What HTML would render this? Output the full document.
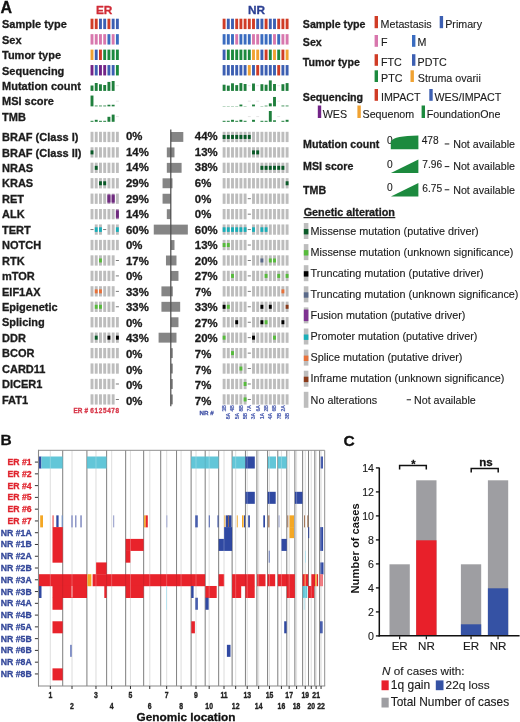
<!DOCTYPE html>
<html><head><meta charset="utf-8"><title>Figure</title>
<style>
html,body{margin:0;padding:0;background:#fff;}
body{width:520px;height:722px;overflow:hidden;}
svg{display:block;font-family:"Liberation Sans",Arial,Helvetica,sans-serif;}
</style></head><body>
<svg width="520" height="722" viewBox="0 0 520 722">
<rect x="0" y="0" width="520" height="722" fill="#fff"/>
<text x="0.60" y="13.10" font-size="16" font-weight="bold" stroke="#111" stroke-width="0.3" fill="#111">A</text>
<text x="104.10" y="14.20" font-size="11.8" font-weight="bold" stroke="#d02a36" stroke-width="0.3" text-anchor="middle" fill="#d02a36">ER</text>
<text x="256.60" y="14.20" font-size="11.8" font-weight="bold" stroke="#2b3f93" stroke-width="0.3" text-anchor="middle" fill="#2b3f93">NR</text>
<text x="2.00" y="28.20" font-size="11" font-weight="bold" stroke="#1c1c1c" stroke-width="0.3" fill="#1c1c1c">Sample type</text>
<text x="2.00" y="43.65" font-size="11" font-weight="bold" stroke="#1c1c1c" stroke-width="0.3" fill="#1c1c1c">Sex</text>
<text x="2.00" y="59.10" font-size="11" font-weight="bold" stroke="#1c1c1c" stroke-width="0.3" fill="#1c1c1c">Tumor type</text>
<text x="2.00" y="74.55" font-size="11" font-weight="bold" stroke="#1c1c1c" stroke-width="0.3" fill="#1c1c1c">Sequencing</text>
<text x="2.00" y="90.00" font-size="11" font-weight="bold" stroke="#1c1c1c" stroke-width="0.3" fill="#1c1c1c">Mutation count</text>
<text x="2.00" y="105.45" font-size="11" font-weight="bold" stroke="#1c1c1c" stroke-width="0.3" fill="#1c1c1c">MSI score</text>
<text x="2.00" y="120.90" font-size="11" font-weight="bold" stroke="#1c1c1c" stroke-width="0.3" fill="#1c1c1c">TMB</text>
<rect x="90.55" y="18.70" width="2.90" height="10.40" fill="#d03c26"/>
<rect x="94.78" y="18.70" width="2.90" height="10.40" fill="#d03c26"/>
<rect x="99.01" y="18.70" width="2.90" height="10.40" fill="#3c5fb2"/>
<rect x="103.24" y="18.70" width="2.90" height="10.40" fill="#3c5fb2"/>
<rect x="107.47" y="18.70" width="2.90" height="10.40" fill="#d03c26"/>
<rect x="111.70" y="18.70" width="2.90" height="10.40" fill="#3c5fb2"/>
<rect x="115.93" y="18.70" width="2.90" height="10.40" fill="#3c5fb2"/>
<rect x="90.55" y="34.15" width="2.90" height="10.40" fill="#d877ad"/>
<rect x="94.78" y="34.15" width="2.90" height="10.40" fill="#d877ad"/>
<rect x="99.01" y="34.15" width="2.90" height="10.40" fill="#d877ad"/>
<rect x="103.24" y="34.15" width="2.90" height="10.40" fill="#d877ad"/>
<rect x="107.47" y="34.15" width="2.90" height="10.40" fill="#3a6cc0"/>
<rect x="111.70" y="34.15" width="2.90" height="10.40" fill="#d877ad"/>
<rect x="115.93" y="34.15" width="2.90" height="10.40" fill="#3a6cc0"/>
<rect x="90.55" y="49.60" width="2.90" height="10.40" fill="#f0a232"/>
<rect x="94.78" y="49.60" width="2.90" height="10.40" fill="#3c5fb2"/>
<rect x="99.01" y="49.60" width="2.90" height="10.40" fill="#d03c26"/>
<rect x="103.24" y="49.60" width="2.90" height="10.40" fill="#1c8a3e"/>
<rect x="107.47" y="49.60" width="2.90" height="10.40" fill="#1c8a3e"/>
<rect x="111.70" y="49.60" width="2.90" height="10.40" fill="#1c8a3e"/>
<rect x="115.93" y="49.60" width="2.90" height="10.40" fill="#1c8a3e"/>
<rect x="90.55" y="65.05" width="2.90" height="10.40" fill="#722487"/>
<rect x="94.78" y="65.05" width="2.90" height="10.40" fill="#3c5fb2"/>
<rect x="99.01" y="65.05" width="2.90" height="10.40" fill="#722487"/>
<rect x="103.24" y="65.05" width="2.90" height="10.40" fill="#722487"/>
<rect x="107.47" y="65.05" width="2.90" height="10.40" fill="#3c5fb2"/>
<rect x="111.70" y="65.05" width="2.90" height="10.40" fill="#3c5fb2"/>
<rect x="115.93" y="65.05" width="2.90" height="10.40" fill="#1c8a3e"/>
<rect x="90.55" y="85.50" width="2.90" height="5.40" fill="#1f7f3c"/>
<rect x="94.78" y="83.00" width="2.90" height="7.90" fill="#1f7f3c"/>
<rect x="99.01" y="84.30" width="2.90" height="6.60" fill="#1f7f3c"/>
<rect x="103.24" y="85.00" width="2.90" height="5.90" fill="#1f7f3c"/>
<rect x="107.47" y="81.90" width="2.90" height="9.00" fill="#1f7f3c"/>
<rect x="111.70" y="81.00" width="2.90" height="9.90" fill="#1f7f3c"/>
<rect x="115.93" y="85.20" width="2.90" height="1.00" fill="#e4e4e4"/>
<rect x="90.55" y="95.55" width="2.90" height="10.80" fill="#1f7f3c"/>
<rect x="94.78" y="105.55" width="2.90" height="0.80" fill="#1f7f3c"/>
<rect x="99.01" y="105.55" width="2.90" height="0.80" fill="#1f7f3c"/>
<rect x="103.24" y="105.55" width="2.90" height="0.80" fill="#1f7f3c"/>
<rect x="107.47" y="104.75" width="2.90" height="1.60" fill="#1f7f3c"/>
<rect x="111.70" y="104.75" width="2.90" height="1.60" fill="#1f7f3c"/>
<rect x="115.93" y="100.65" width="2.90" height="1.00" fill="#e4e4e4"/>
<rect x="90.55" y="120.80" width="2.90" height="1.00" fill="#1f7f3c"/>
<rect x="94.78" y="119.80" width="2.90" height="2.00" fill="#1f7f3c"/>
<rect x="99.01" y="120.80" width="2.90" height="1.00" fill="#1f7f3c"/>
<rect x="103.24" y="120.80" width="2.90" height="1.00" fill="#1f7f3c"/>
<rect x="107.47" y="116.80" width="2.90" height="5.00" fill="#1f7f3c"/>
<rect x="111.70" y="114.60" width="2.90" height="7.20" fill="#1f7f3c"/>
<rect x="115.93" y="116.10" width="2.90" height="1.00" fill="#e4e4e4"/>
<rect x="222.65" y="18.70" width="2.90" height="10.40" fill="#d03c26"/>
<rect x="226.85" y="18.70" width="2.90" height="10.40" fill="#3c5fb2"/>
<rect x="231.05" y="18.70" width="2.90" height="10.40" fill="#3c5fb2"/>
<rect x="235.25" y="18.70" width="2.90" height="10.40" fill="#d03c26"/>
<rect x="239.45" y="18.70" width="2.90" height="10.40" fill="#d03c26"/>
<rect x="243.65" y="18.70" width="2.90" height="10.40" fill="#d03c26"/>
<rect x="247.85" y="18.70" width="2.90" height="10.40" fill="#d03c26"/>
<rect x="252.05" y="18.70" width="2.90" height="10.40" fill="#d03c26"/>
<rect x="256.25" y="18.70" width="2.90" height="10.40" fill="#3c5fb2"/>
<rect x="260.45" y="18.70" width="2.90" height="10.40" fill="#3c5fb2"/>
<rect x="264.65" y="18.70" width="2.90" height="10.40" fill="#d03c26"/>
<rect x="268.85" y="18.70" width="2.90" height="10.40" fill="#3c5fb2"/>
<rect x="273.05" y="18.70" width="2.90" height="10.40" fill="#3c5fb2"/>
<rect x="277.25" y="18.70" width="2.90" height="10.40" fill="#d03c26"/>
<rect x="281.45" y="18.70" width="2.90" height="10.40" fill="#d03c26"/>
<rect x="285.65" y="18.70" width="2.90" height="10.40" fill="#d03c26"/>
<rect x="222.65" y="34.15" width="2.90" height="10.40" fill="#3a6cc0"/>
<rect x="226.85" y="34.15" width="2.90" height="10.40" fill="#3a6cc0"/>
<rect x="231.05" y="34.15" width="2.90" height="10.40" fill="#3a6cc0"/>
<rect x="235.25" y="34.15" width="2.90" height="10.40" fill="#d877ad"/>
<rect x="239.45" y="34.15" width="2.90" height="10.40" fill="#3a6cc0"/>
<rect x="243.65" y="34.15" width="2.90" height="10.40" fill="#3a6cc0"/>
<rect x="247.85" y="34.15" width="2.90" height="10.40" fill="#3a6cc0"/>
<rect x="252.05" y="34.15" width="2.90" height="10.40" fill="#d877ad"/>
<rect x="256.25" y="34.15" width="2.90" height="10.40" fill="#d877ad"/>
<rect x="260.45" y="34.15" width="2.90" height="10.40" fill="#3a6cc0"/>
<rect x="264.65" y="34.15" width="2.90" height="10.40" fill="#3a6cc0"/>
<rect x="268.85" y="34.15" width="2.90" height="10.40" fill="#3a6cc0"/>
<rect x="273.05" y="34.15" width="2.90" height="10.40" fill="#d877ad"/>
<rect x="277.25" y="34.15" width="2.90" height="10.40" fill="#3a6cc0"/>
<rect x="281.45" y="34.15" width="2.90" height="10.40" fill="#d877ad"/>
<rect x="285.65" y="34.15" width="2.90" height="10.40" fill="#d877ad"/>
<rect x="222.65" y="49.60" width="2.90" height="10.40" fill="#3c5fb2"/>
<rect x="226.85" y="49.60" width="2.90" height="10.40" fill="#1c8a3e"/>
<rect x="231.05" y="49.60" width="2.90" height="10.40" fill="#1c8a3e"/>
<rect x="235.25" y="49.60" width="2.90" height="10.40" fill="#1c8a3e"/>
<rect x="239.45" y="49.60" width="2.90" height="10.40" fill="#1c8a3e"/>
<rect x="243.65" y="49.60" width="2.90" height="10.40" fill="#1c8a3e"/>
<rect x="247.85" y="49.60" width="2.90" height="10.40" fill="#1c8a3e"/>
<rect x="252.05" y="49.60" width="2.90" height="10.40" fill="#f0a232"/>
<rect x="256.25" y="49.60" width="2.90" height="10.40" fill="#f0a232"/>
<rect x="260.45" y="49.60" width="2.90" height="10.40" fill="#3c5fb2"/>
<rect x="264.65" y="49.60" width="2.90" height="10.40" fill="#d03c26"/>
<rect x="268.85" y="49.60" width="2.90" height="10.40" fill="#1c8a3e"/>
<rect x="273.05" y="49.60" width="2.90" height="10.40" fill="#f0a232"/>
<rect x="277.25" y="49.60" width="2.90" height="10.40" fill="#1c8a3e"/>
<rect x="281.45" y="49.60" width="2.90" height="10.40" fill="#d03c26"/>
<rect x="285.65" y="49.60" width="2.90" height="10.40" fill="#f0a232"/>
<rect x="222.65" y="65.05" width="2.90" height="10.40" fill="#3c5fb2"/>
<rect x="226.85" y="65.05" width="2.90" height="10.40" fill="#3c5fb2"/>
<rect x="231.05" y="65.05" width="2.90" height="10.40" fill="#3c5fb2"/>
<rect x="235.25" y="65.05" width="2.90" height="10.40" fill="#3c5fb2"/>
<rect x="239.45" y="65.05" width="2.90" height="10.40" fill="#3c5fb2"/>
<rect x="243.65" y="65.05" width="2.90" height="10.40" fill="#3c5fb2"/>
<rect x="247.85" y="65.05" width="2.90" height="10.40" fill="#f0a232"/>
<rect x="252.05" y="65.05" width="2.90" height="10.40" fill="#3c5fb2"/>
<rect x="256.25" y="65.05" width="2.90" height="10.40" fill="#d03c26"/>
<rect x="260.45" y="65.05" width="2.90" height="10.40" fill="#3c5fb2"/>
<rect x="264.65" y="65.05" width="2.90" height="10.40" fill="#3c5fb2"/>
<rect x="268.85" y="65.05" width="2.90" height="10.40" fill="#3c5fb2"/>
<rect x="273.05" y="65.05" width="2.90" height="10.40" fill="#3c5fb2"/>
<rect x="277.25" y="65.05" width="2.90" height="10.40" fill="#d03c26"/>
<rect x="281.45" y="65.05" width="2.90" height="10.40" fill="#3c5fb2"/>
<rect x="285.65" y="65.05" width="2.90" height="10.40" fill="#3c5fb2"/>
<rect x="222.65" y="84.70" width="2.90" height="6.20" fill="#1f7f3c"/>
<rect x="226.85" y="85.60" width="2.90" height="5.30" fill="#1f7f3c"/>
<rect x="231.05" y="83.30" width="2.90" height="7.60" fill="#1f7f3c"/>
<rect x="235.25" y="85.10" width="2.90" height="5.80" fill="#1f7f3c"/>
<rect x="239.45" y="83.10" width="2.90" height="7.80" fill="#1f7f3c"/>
<rect x="243.65" y="84.00" width="2.90" height="6.90" fill="#1f7f3c"/>
<rect x="247.85" y="85.20" width="2.90" height="1.00" fill="#e4e4e4"/>
<rect x="252.05" y="83.50" width="2.90" height="7.40" fill="#1f7f3c"/>
<rect x="256.25" y="85.20" width="2.90" height="1.00" fill="#e4e4e4"/>
<rect x="260.45" y="84.20" width="2.90" height="6.70" fill="#1f7f3c"/>
<rect x="264.65" y="84.70" width="2.90" height="6.20" fill="#1f7f3c"/>
<rect x="268.85" y="80.40" width="2.90" height="10.50" fill="#1f7f3c"/>
<rect x="273.05" y="84.00" width="2.90" height="6.90" fill="#1f7f3c"/>
<rect x="277.25" y="85.20" width="2.90" height="1.00" fill="#e4e4e4"/>
<rect x="281.45" y="84.20" width="2.90" height="6.70" fill="#1f7f3c"/>
<rect x="285.65" y="83.10" width="2.90" height="7.80" fill="#1f7f3c"/>
<rect x="222.65" y="106.05" width="2.90" height="0.30" fill="#1f7f3c"/>
<rect x="226.85" y="106.05" width="2.90" height="0.30" fill="#1f7f3c"/>
<rect x="231.05" y="106.05" width="2.90" height="0.30" fill="#1f7f3c"/>
<rect x="235.25" y="106.05" width="2.90" height="0.30" fill="#1f7f3c"/>
<rect x="239.45" y="104.55" width="2.90" height="1.80" fill="#1f7f3c"/>
<rect x="243.65" y="106.05" width="2.90" height="0.30" fill="#1f7f3c"/>
<rect x="247.85" y="100.65" width="2.90" height="1.00" fill="#e4e4e4"/>
<rect x="252.05" y="104.55" width="2.90" height="1.80" fill="#1f7f3c"/>
<rect x="256.25" y="100.65" width="2.90" height="1.00" fill="#e4e4e4"/>
<rect x="260.45" y="106.05" width="2.90" height="0.30" fill="#1f7f3c"/>
<rect x="264.65" y="105.65" width="2.90" height="0.70" fill="#1f7f3c"/>
<rect x="268.85" y="103.35" width="2.90" height="3.00" fill="#1f7f3c"/>
<rect x="273.05" y="96.95" width="2.90" height="9.40" fill="#1f7f3c"/>
<rect x="277.25" y="100.65" width="2.90" height="1.00" fill="#e4e4e4"/>
<rect x="281.45" y="105.55" width="2.90" height="0.80" fill="#1f7f3c"/>
<rect x="285.65" y="105.55" width="2.90" height="0.80" fill="#1f7f3c"/>
<rect x="222.65" y="120.80" width="2.90" height="1.00" fill="#1f7f3c"/>
<rect x="226.85" y="120.80" width="2.90" height="1.00" fill="#1f7f3c"/>
<rect x="231.05" y="119.80" width="2.90" height="2.00" fill="#1f7f3c"/>
<rect x="235.25" y="120.80" width="2.90" height="1.00" fill="#1f7f3c"/>
<rect x="239.45" y="119.80" width="2.90" height="2.00" fill="#1f7f3c"/>
<rect x="243.65" y="120.80" width="2.90" height="1.00" fill="#1f7f3c"/>
<rect x="247.85" y="116.10" width="2.90" height="1.00" fill="#e4e4e4"/>
<rect x="252.05" y="119.80" width="2.90" height="2.00" fill="#1f7f3c"/>
<rect x="256.25" y="116.10" width="2.90" height="1.00" fill="#e4e4e4"/>
<rect x="260.45" y="120.80" width="2.90" height="1.00" fill="#1f7f3c"/>
<rect x="264.65" y="120.80" width="2.90" height="1.00" fill="#1f7f3c"/>
<rect x="268.85" y="111.00" width="2.90" height="10.80" fill="#1f7f3c"/>
<rect x="273.05" y="120.30" width="2.90" height="1.50" fill="#1f7f3c"/>
<rect x="277.25" y="116.10" width="2.90" height="1.00" fill="#e4e4e4"/>
<rect x="281.45" y="120.80" width="2.90" height="1.00" fill="#1f7f3c"/>
<rect x="285.65" y="119.80" width="2.90" height="2.00" fill="#1f7f3c"/>
<rect x="90.55" y="131.80" width="2.90" height="10.30" fill="#bdbdbd"/>
<rect x="94.78" y="131.80" width="2.90" height="10.30" fill="#bdbdbd"/>
<rect x="99.01" y="131.80" width="2.90" height="10.30" fill="#bdbdbd"/>
<rect x="103.24" y="131.80" width="2.90" height="10.30" fill="#bdbdbd"/>
<rect x="107.47" y="131.80" width="2.90" height="10.30" fill="#bdbdbd"/>
<rect x="111.70" y="131.80" width="2.90" height="10.30" fill="#bdbdbd"/>
<rect x="115.93" y="131.80" width="2.90" height="10.30" fill="#bdbdbd"/>
<rect x="90.55" y="147.24" width="2.90" height="10.30" fill="#bdbdbd"/>
<rect x="90.55" y="150.39" width="2.90" height="4.00" fill="#0a5a28"/>
<rect x="94.78" y="147.24" width="2.90" height="10.30" fill="#bdbdbd"/>
<rect x="99.01" y="147.24" width="2.90" height="10.30" fill="#bdbdbd"/>
<rect x="103.24" y="147.24" width="2.90" height="10.30" fill="#bdbdbd"/>
<rect x="107.47" y="147.24" width="2.90" height="10.30" fill="#bdbdbd"/>
<rect x="111.70" y="147.24" width="2.90" height="10.30" fill="#bdbdbd"/>
<rect x="115.93" y="147.24" width="2.90" height="10.30" fill="#bdbdbd"/>
<rect x="90.55" y="162.68" width="2.90" height="10.30" fill="#bdbdbd"/>
<rect x="94.78" y="162.68" width="2.90" height="10.30" fill="#bdbdbd"/>
<rect x="94.78" y="165.83" width="2.90" height="4.00" fill="#0a5a28"/>
<rect x="99.01" y="162.68" width="2.90" height="10.30" fill="#bdbdbd"/>
<rect x="103.24" y="162.68" width="2.90" height="10.30" fill="#bdbdbd"/>
<rect x="107.47" y="162.68" width="2.90" height="10.30" fill="#bdbdbd"/>
<rect x="111.70" y="162.68" width="2.90" height="10.30" fill="#bdbdbd"/>
<rect x="115.93" y="162.68" width="2.90" height="10.30" fill="#bdbdbd"/>
<rect x="90.55" y="178.12" width="2.90" height="10.30" fill="#bdbdbd"/>
<rect x="94.78" y="178.12" width="2.90" height="10.30" fill="#bdbdbd"/>
<rect x="99.01" y="178.12" width="2.90" height="10.30" fill="#bdbdbd"/>
<rect x="99.01" y="181.27" width="2.90" height="4.00" fill="#0a5a28"/>
<rect x="103.24" y="178.12" width="2.90" height="10.30" fill="#bdbdbd"/>
<rect x="103.24" y="181.27" width="2.90" height="4.00" fill="#0a5a28"/>
<rect x="107.47" y="178.12" width="2.90" height="10.30" fill="#bdbdbd"/>
<rect x="111.70" y="178.12" width="2.90" height="10.30" fill="#bdbdbd"/>
<rect x="115.93" y="178.12" width="2.90" height="10.30" fill="#bdbdbd"/>
<rect x="90.55" y="193.56" width="2.90" height="10.30" fill="#bdbdbd"/>
<rect x="94.78" y="193.56" width="2.90" height="10.30" fill="#bdbdbd"/>
<rect x="99.01" y="193.56" width="2.90" height="10.30" fill="#bdbdbd"/>
<rect x="103.24" y="193.56" width="2.90" height="10.30" fill="#bdbdbd"/>
<rect x="107.47" y="193.56" width="2.90" height="10.30" fill="#bdbdbd"/>
<rect x="107.47" y="194.16" width="2.90" height="9.10" fill="#9a62a6"/>
<rect x="107.47" y="195.16" width="2.90" height="7.10" fill="#6e2a7e"/>
<rect x="111.70" y="193.56" width="2.90" height="10.30" fill="#bdbdbd"/>
<rect x="111.70" y="194.16" width="2.90" height="9.10" fill="#9a62a6"/>
<rect x="111.70" y="195.16" width="2.90" height="7.10" fill="#6e2a7e"/>
<rect x="115.93" y="193.56" width="2.90" height="10.30" fill="#bdbdbd"/>
<rect x="90.55" y="209.00" width="2.90" height="10.30" fill="#bdbdbd"/>
<rect x="94.78" y="209.00" width="2.90" height="10.30" fill="#bdbdbd"/>
<rect x="99.01" y="209.00" width="2.90" height="10.30" fill="#bdbdbd"/>
<rect x="103.24" y="209.00" width="2.90" height="10.30" fill="#bdbdbd"/>
<rect x="107.47" y="209.00" width="2.90" height="10.30" fill="#bdbdbd"/>
<rect x="111.70" y="209.00" width="2.90" height="10.30" fill="#bdbdbd"/>
<rect x="115.93" y="209.00" width="2.90" height="10.30" fill="#bdbdbd"/>
<rect x="115.93" y="209.60" width="2.90" height="9.10" fill="#9a62a6"/>
<rect x="115.93" y="210.60" width="2.90" height="7.10" fill="#6e2a7e"/>
<rect x="90.45" y="229.14" width="3.10" height="0.90" fill="#6a6a6a"/>
<rect x="94.78" y="224.44" width="2.90" height="10.30" fill="#bdbdbd"/>
<rect x="94.78" y="227.29" width="2.90" height="4.60" fill="#1aaeb8"/>
<rect x="99.01" y="224.44" width="2.90" height="10.30" fill="#bdbdbd"/>
<rect x="99.01" y="227.29" width="2.90" height="4.60" fill="#1aaeb8"/>
<rect x="103.14" y="229.14" width="3.10" height="0.90" fill="#6a6a6a"/>
<rect x="107.47" y="224.44" width="2.90" height="10.30" fill="#bdbdbd"/>
<rect x="111.70" y="224.44" width="2.90" height="10.30" fill="#bdbdbd"/>
<rect x="115.93" y="224.44" width="2.90" height="10.30" fill="#bdbdbd"/>
<rect x="115.93" y="227.29" width="2.90" height="4.60" fill="#1aaeb8"/>
<rect x="90.55" y="239.88" width="2.90" height="10.30" fill="#bdbdbd"/>
<rect x="94.78" y="239.88" width="2.90" height="10.30" fill="#bdbdbd"/>
<rect x="99.01" y="239.88" width="2.90" height="10.30" fill="#bdbdbd"/>
<rect x="103.24" y="239.88" width="2.90" height="10.30" fill="#bdbdbd"/>
<rect x="107.47" y="239.88" width="2.90" height="10.30" fill="#bdbdbd"/>
<rect x="111.70" y="239.88" width="2.90" height="10.30" fill="#bdbdbd"/>
<rect x="115.93" y="239.88" width="2.90" height="10.30" fill="#bdbdbd"/>
<rect x="90.55" y="255.32" width="2.90" height="10.30" fill="#bdbdbd"/>
<rect x="94.78" y="255.32" width="2.90" height="10.30" fill="#bdbdbd"/>
<rect x="99.01" y="255.32" width="2.90" height="10.30" fill="#bdbdbd"/>
<rect x="99.01" y="258.47" width="2.90" height="4.00" fill="#57bb3c"/>
<rect x="103.24" y="255.32" width="2.90" height="10.30" fill="#bdbdbd"/>
<rect x="107.47" y="255.32" width="2.90" height="10.30" fill="#bdbdbd"/>
<rect x="111.70" y="255.32" width="2.90" height="10.30" fill="#bdbdbd"/>
<rect x="115.83" y="260.02" width="3.10" height="0.90" fill="#6a6a6a"/>
<rect x="90.55" y="270.76" width="2.90" height="10.30" fill="#bdbdbd"/>
<rect x="94.78" y="270.76" width="2.90" height="10.30" fill="#bdbdbd"/>
<rect x="99.01" y="270.76" width="2.90" height="10.30" fill="#bdbdbd"/>
<rect x="103.24" y="270.76" width="2.90" height="10.30" fill="#bdbdbd"/>
<rect x="107.47" y="270.76" width="2.90" height="10.30" fill="#bdbdbd"/>
<rect x="111.70" y="270.76" width="2.90" height="10.30" fill="#bdbdbd"/>
<rect x="115.83" y="275.46" width="3.10" height="0.90" fill="#6a6a6a"/>
<rect x="90.55" y="286.20" width="2.90" height="10.30" fill="#bdbdbd"/>
<rect x="94.78" y="286.20" width="2.90" height="10.30" fill="#bdbdbd"/>
<rect x="94.78" y="289.35" width="2.90" height="4.00" fill="#e7713a"/>
<rect x="99.01" y="286.20" width="2.90" height="10.30" fill="#bdbdbd"/>
<rect x="99.01" y="289.35" width="2.90" height="4.00" fill="#e7713a"/>
<rect x="103.24" y="286.20" width="2.90" height="10.30" fill="#bdbdbd"/>
<rect x="107.47" y="286.20" width="2.90" height="10.30" fill="#bdbdbd"/>
<rect x="111.70" y="286.20" width="2.90" height="10.30" fill="#bdbdbd"/>
<rect x="115.83" y="290.90" width="3.10" height="0.90" fill="#6a6a6a"/>
<rect x="90.55" y="301.64" width="2.90" height="10.30" fill="#bdbdbd"/>
<rect x="94.78" y="301.64" width="2.90" height="10.30" fill="#bdbdbd"/>
<rect x="94.78" y="304.79" width="2.90" height="4.00" fill="#57bb3c"/>
<rect x="99.01" y="301.64" width="2.90" height="10.30" fill="#bdbdbd"/>
<rect x="99.01" y="304.79" width="2.90" height="4.00" fill="#57bb3c"/>
<rect x="103.24" y="301.64" width="2.90" height="10.30" fill="#bdbdbd"/>
<rect x="107.47" y="301.64" width="2.90" height="10.30" fill="#bdbdbd"/>
<rect x="111.70" y="301.64" width="2.90" height="10.30" fill="#bdbdbd"/>
<rect x="115.83" y="306.34" width="3.10" height="0.90" fill="#6a6a6a"/>
<rect x="90.55" y="317.08" width="2.90" height="10.30" fill="#bdbdbd"/>
<rect x="94.78" y="317.08" width="2.90" height="10.30" fill="#bdbdbd"/>
<rect x="99.01" y="317.08" width="2.90" height="10.30" fill="#bdbdbd"/>
<rect x="103.24" y="317.08" width="2.90" height="10.30" fill="#bdbdbd"/>
<rect x="107.47" y="317.08" width="2.90" height="10.30" fill="#bdbdbd"/>
<rect x="111.70" y="317.08" width="2.90" height="10.30" fill="#bdbdbd"/>
<rect x="115.93" y="317.08" width="2.90" height="10.30" fill="#bdbdbd"/>
<rect x="90.55" y="332.52" width="2.90" height="10.30" fill="#bdbdbd"/>
<rect x="94.78" y="332.52" width="2.90" height="10.30" fill="#bdbdbd"/>
<rect x="94.78" y="335.67" width="2.90" height="4.00" fill="#0a5a28"/>
<rect x="99.01" y="332.52" width="2.90" height="10.30" fill="#bdbdbd"/>
<rect x="103.24" y="332.52" width="2.90" height="10.30" fill="#bdbdbd"/>
<rect x="107.47" y="332.52" width="2.90" height="10.30" fill="#bdbdbd"/>
<rect x="107.47" y="335.67" width="2.90" height="4.00" fill="#000000"/>
<rect x="111.70" y="332.52" width="2.90" height="10.30" fill="#bdbdbd"/>
<rect x="115.93" y="332.52" width="2.90" height="10.30" fill="#bdbdbd"/>
<rect x="115.93" y="335.67" width="2.90" height="4.00" fill="#000000"/>
<rect x="90.55" y="347.96" width="2.90" height="10.30" fill="#bdbdbd"/>
<rect x="94.78" y="347.96" width="2.90" height="10.30" fill="#bdbdbd"/>
<rect x="99.01" y="347.96" width="2.90" height="10.30" fill="#bdbdbd"/>
<rect x="103.24" y="347.96" width="2.90" height="10.30" fill="#bdbdbd"/>
<rect x="107.47" y="347.96" width="2.90" height="10.30" fill="#bdbdbd"/>
<rect x="111.70" y="347.96" width="2.90" height="10.30" fill="#bdbdbd"/>
<rect x="115.93" y="347.96" width="2.90" height="10.30" fill="#bdbdbd"/>
<rect x="90.55" y="363.40" width="2.90" height="10.30" fill="#bdbdbd"/>
<rect x="94.78" y="363.40" width="2.90" height="10.30" fill="#bdbdbd"/>
<rect x="99.01" y="363.40" width="2.90" height="10.30" fill="#bdbdbd"/>
<rect x="103.24" y="363.40" width="2.90" height="10.30" fill="#bdbdbd"/>
<rect x="107.47" y="363.40" width="2.90" height="10.30" fill="#bdbdbd"/>
<rect x="111.70" y="363.40" width="2.90" height="10.30" fill="#bdbdbd"/>
<rect x="115.93" y="363.40" width="2.90" height="10.30" fill="#bdbdbd"/>
<rect x="90.55" y="378.84" width="2.90" height="10.30" fill="#bdbdbd"/>
<rect x="94.78" y="378.84" width="2.90" height="10.30" fill="#bdbdbd"/>
<rect x="99.01" y="378.84" width="2.90" height="10.30" fill="#bdbdbd"/>
<rect x="103.24" y="378.84" width="2.90" height="10.30" fill="#bdbdbd"/>
<rect x="107.47" y="378.84" width="2.90" height="10.30" fill="#bdbdbd"/>
<rect x="111.70" y="378.84" width="2.90" height="10.30" fill="#bdbdbd"/>
<rect x="115.83" y="383.54" width="3.10" height="0.90" fill="#6a6a6a"/>
<rect x="90.55" y="394.28" width="2.90" height="10.30" fill="#bdbdbd"/>
<rect x="94.78" y="394.28" width="2.90" height="10.30" fill="#bdbdbd"/>
<rect x="99.01" y="394.28" width="2.90" height="10.30" fill="#bdbdbd"/>
<rect x="103.24" y="394.28" width="2.90" height="10.30" fill="#bdbdbd"/>
<rect x="107.47" y="394.28" width="2.90" height="10.30" fill="#bdbdbd"/>
<rect x="111.70" y="394.28" width="2.90" height="10.30" fill="#bdbdbd"/>
<rect x="115.83" y="398.98" width="3.10" height="0.90" fill="#6a6a6a"/>
<rect x="222.65" y="131.80" width="2.90" height="10.30" fill="#bdbdbd"/>
<rect x="222.65" y="134.95" width="2.90" height="4.00" fill="#0a5a28"/>
<rect x="226.85" y="131.80" width="2.90" height="10.30" fill="#bdbdbd"/>
<rect x="226.85" y="134.95" width="2.90" height="4.00" fill="#0a5a28"/>
<rect x="231.05" y="131.80" width="2.90" height="10.30" fill="#bdbdbd"/>
<rect x="231.05" y="134.95" width="2.90" height="4.00" fill="#0a5a28"/>
<rect x="235.25" y="131.80" width="2.90" height="10.30" fill="#bdbdbd"/>
<rect x="235.25" y="134.95" width="2.90" height="4.00" fill="#0a5a28"/>
<rect x="239.45" y="131.80" width="2.90" height="10.30" fill="#bdbdbd"/>
<rect x="239.45" y="134.95" width="2.90" height="4.00" fill="#0a5a28"/>
<rect x="243.65" y="131.80" width="2.90" height="10.30" fill="#bdbdbd"/>
<rect x="243.65" y="134.95" width="2.90" height="4.00" fill="#0a5a28"/>
<rect x="247.85" y="131.80" width="2.90" height="10.30" fill="#bdbdbd"/>
<rect x="247.85" y="134.95" width="2.90" height="4.00" fill="#0a5a28"/>
<rect x="252.05" y="131.80" width="2.90" height="10.30" fill="#bdbdbd"/>
<rect x="256.25" y="131.80" width="2.90" height="10.30" fill="#bdbdbd"/>
<rect x="260.45" y="131.80" width="2.90" height="10.30" fill="#bdbdbd"/>
<rect x="264.65" y="131.80" width="2.90" height="10.30" fill="#bdbdbd"/>
<rect x="268.85" y="131.80" width="2.90" height="10.30" fill="#bdbdbd"/>
<rect x="273.05" y="131.80" width="2.90" height="10.30" fill="#bdbdbd"/>
<rect x="277.25" y="131.80" width="2.90" height="10.30" fill="#bdbdbd"/>
<rect x="281.45" y="131.80" width="2.90" height="10.30" fill="#bdbdbd"/>
<rect x="285.65" y="131.80" width="2.90" height="10.30" fill="#bdbdbd"/>
<rect x="222.65" y="147.24" width="2.90" height="10.30" fill="#bdbdbd"/>
<rect x="226.85" y="147.24" width="2.90" height="10.30" fill="#bdbdbd"/>
<rect x="231.05" y="147.24" width="2.90" height="10.30" fill="#bdbdbd"/>
<rect x="235.25" y="147.24" width="2.90" height="10.30" fill="#bdbdbd"/>
<rect x="239.45" y="147.24" width="2.90" height="10.30" fill="#bdbdbd"/>
<rect x="243.65" y="147.24" width="2.90" height="10.30" fill="#bdbdbd"/>
<rect x="247.85" y="147.24" width="2.90" height="10.30" fill="#bdbdbd"/>
<rect x="252.05" y="147.24" width="2.90" height="10.30" fill="#bdbdbd"/>
<rect x="252.05" y="150.39" width="2.90" height="4.00" fill="#0a5a28"/>
<rect x="256.25" y="147.24" width="2.90" height="10.30" fill="#bdbdbd"/>
<rect x="256.25" y="150.39" width="2.90" height="4.00" fill="#0a5a28"/>
<rect x="260.45" y="147.24" width="2.90" height="10.30" fill="#bdbdbd"/>
<rect x="264.65" y="147.24" width="2.90" height="10.30" fill="#bdbdbd"/>
<rect x="268.85" y="147.24" width="2.90" height="10.30" fill="#bdbdbd"/>
<rect x="273.05" y="147.24" width="2.90" height="10.30" fill="#bdbdbd"/>
<rect x="277.25" y="147.24" width="2.90" height="10.30" fill="#bdbdbd"/>
<rect x="281.45" y="147.24" width="2.90" height="10.30" fill="#bdbdbd"/>
<rect x="285.65" y="147.24" width="2.90" height="10.30" fill="#bdbdbd"/>
<rect x="222.65" y="162.68" width="2.90" height="10.30" fill="#bdbdbd"/>
<rect x="226.85" y="162.68" width="2.90" height="10.30" fill="#bdbdbd"/>
<rect x="231.05" y="162.68" width="2.90" height="10.30" fill="#bdbdbd"/>
<rect x="235.25" y="162.68" width="2.90" height="10.30" fill="#bdbdbd"/>
<rect x="239.45" y="162.68" width="2.90" height="10.30" fill="#bdbdbd"/>
<rect x="243.65" y="162.68" width="2.90" height="10.30" fill="#bdbdbd"/>
<rect x="247.85" y="162.68" width="2.90" height="10.30" fill="#bdbdbd"/>
<rect x="252.05" y="162.68" width="2.90" height="10.30" fill="#bdbdbd"/>
<rect x="256.25" y="162.68" width="2.90" height="10.30" fill="#bdbdbd"/>
<rect x="260.45" y="162.68" width="2.90" height="10.30" fill="#bdbdbd"/>
<rect x="260.45" y="165.83" width="2.90" height="4.00" fill="#0a5a28"/>
<rect x="264.65" y="162.68" width="2.90" height="10.30" fill="#bdbdbd"/>
<rect x="264.65" y="165.83" width="2.90" height="4.00" fill="#0a5a28"/>
<rect x="268.85" y="162.68" width="2.90" height="10.30" fill="#bdbdbd"/>
<rect x="268.85" y="165.83" width="2.90" height="4.00" fill="#0a5a28"/>
<rect x="273.05" y="162.68" width="2.90" height="10.30" fill="#bdbdbd"/>
<rect x="273.05" y="165.83" width="2.90" height="4.00" fill="#0a5a28"/>
<rect x="277.25" y="162.68" width="2.90" height="10.30" fill="#bdbdbd"/>
<rect x="277.25" y="165.83" width="2.90" height="4.00" fill="#0a5a28"/>
<rect x="281.45" y="162.68" width="2.90" height="10.30" fill="#bdbdbd"/>
<rect x="281.45" y="165.83" width="2.90" height="4.00" fill="#0a5a28"/>
<rect x="285.65" y="162.68" width="2.90" height="10.30" fill="#bdbdbd"/>
<rect x="222.65" y="178.12" width="2.90" height="10.30" fill="#bdbdbd"/>
<rect x="226.85" y="178.12" width="2.90" height="10.30" fill="#bdbdbd"/>
<rect x="231.05" y="178.12" width="2.90" height="10.30" fill="#bdbdbd"/>
<rect x="235.25" y="178.12" width="2.90" height="10.30" fill="#bdbdbd"/>
<rect x="239.45" y="178.12" width="2.90" height="10.30" fill="#bdbdbd"/>
<rect x="243.65" y="178.12" width="2.90" height="10.30" fill="#bdbdbd"/>
<rect x="247.85" y="178.12" width="2.90" height="10.30" fill="#bdbdbd"/>
<rect x="252.05" y="178.12" width="2.90" height="10.30" fill="#bdbdbd"/>
<rect x="256.25" y="178.12" width="2.90" height="10.30" fill="#bdbdbd"/>
<rect x="260.45" y="178.12" width="2.90" height="10.30" fill="#bdbdbd"/>
<rect x="264.65" y="178.12" width="2.90" height="10.30" fill="#bdbdbd"/>
<rect x="268.85" y="178.12" width="2.90" height="10.30" fill="#bdbdbd"/>
<rect x="273.05" y="178.12" width="2.90" height="10.30" fill="#bdbdbd"/>
<rect x="277.25" y="178.12" width="2.90" height="10.30" fill="#bdbdbd"/>
<rect x="281.45" y="178.12" width="2.90" height="10.30" fill="#bdbdbd"/>
<rect x="285.65" y="178.12" width="2.90" height="10.30" fill="#bdbdbd"/>
<rect x="285.65" y="181.27" width="2.90" height="4.00" fill="#0a5a28"/>
<rect x="222.65" y="193.56" width="2.90" height="10.30" fill="#bdbdbd"/>
<rect x="226.85" y="193.56" width="2.90" height="10.30" fill="#bdbdbd"/>
<rect x="231.05" y="193.56" width="2.90" height="10.30" fill="#bdbdbd"/>
<rect x="235.25" y="193.56" width="2.90" height="10.30" fill="#bdbdbd"/>
<rect x="239.45" y="193.56" width="2.90" height="10.30" fill="#bdbdbd"/>
<rect x="243.65" y="193.56" width="2.90" height="10.30" fill="#bdbdbd"/>
<rect x="247.75" y="198.26" width="3.10" height="0.90" fill="#6a6a6a"/>
<rect x="252.05" y="193.56" width="2.90" height="10.30" fill="#bdbdbd"/>
<rect x="256.25" y="193.56" width="2.90" height="10.30" fill="#bdbdbd"/>
<rect x="260.45" y="193.56" width="2.90" height="10.30" fill="#bdbdbd"/>
<rect x="264.65" y="193.56" width="2.90" height="10.30" fill="#bdbdbd"/>
<rect x="268.85" y="193.56" width="2.90" height="10.30" fill="#bdbdbd"/>
<rect x="273.05" y="193.56" width="2.90" height="10.30" fill="#bdbdbd"/>
<rect x="277.25" y="193.56" width="2.90" height="10.30" fill="#bdbdbd"/>
<rect x="281.45" y="193.56" width="2.90" height="10.30" fill="#bdbdbd"/>
<rect x="285.65" y="193.56" width="2.90" height="10.30" fill="#bdbdbd"/>
<rect x="222.65" y="209.00" width="2.90" height="10.30" fill="#bdbdbd"/>
<rect x="226.85" y="209.00" width="2.90" height="10.30" fill="#bdbdbd"/>
<rect x="231.05" y="209.00" width="2.90" height="10.30" fill="#bdbdbd"/>
<rect x="235.25" y="209.00" width="2.90" height="10.30" fill="#bdbdbd"/>
<rect x="239.45" y="209.00" width="2.90" height="10.30" fill="#bdbdbd"/>
<rect x="243.65" y="209.00" width="2.90" height="10.30" fill="#bdbdbd"/>
<rect x="247.75" y="213.70" width="3.10" height="0.90" fill="#6a6a6a"/>
<rect x="252.05" y="209.00" width="2.90" height="10.30" fill="#bdbdbd"/>
<rect x="256.25" y="209.00" width="2.90" height="10.30" fill="#bdbdbd"/>
<rect x="260.45" y="209.00" width="2.90" height="10.30" fill="#bdbdbd"/>
<rect x="264.65" y="209.00" width="2.90" height="10.30" fill="#bdbdbd"/>
<rect x="268.85" y="209.00" width="2.90" height="10.30" fill="#bdbdbd"/>
<rect x="273.05" y="209.00" width="2.90" height="10.30" fill="#bdbdbd"/>
<rect x="277.25" y="209.00" width="2.90" height="10.30" fill="#bdbdbd"/>
<rect x="281.45" y="209.00" width="2.90" height="10.30" fill="#bdbdbd"/>
<rect x="285.65" y="209.00" width="2.90" height="10.30" fill="#bdbdbd"/>
<rect x="222.65" y="224.44" width="2.90" height="10.30" fill="#bdbdbd"/>
<rect x="222.65" y="227.29" width="2.90" height="4.60" fill="#1aaeb8"/>
<rect x="226.85" y="224.44" width="2.90" height="10.30" fill="#bdbdbd"/>
<rect x="226.85" y="227.29" width="2.90" height="4.60" fill="#1aaeb8"/>
<rect x="231.05" y="224.44" width="2.90" height="10.30" fill="#bdbdbd"/>
<rect x="231.05" y="227.29" width="2.90" height="4.60" fill="#1aaeb8"/>
<rect x="235.25" y="224.44" width="2.90" height="10.30" fill="#bdbdbd"/>
<rect x="235.25" y="227.29" width="2.90" height="4.60" fill="#1aaeb8"/>
<rect x="239.45" y="224.44" width="2.90" height="10.30" fill="#bdbdbd"/>
<rect x="239.45" y="227.29" width="2.90" height="4.60" fill="#1aaeb8"/>
<rect x="243.65" y="224.44" width="2.90" height="10.30" fill="#bdbdbd"/>
<rect x="243.65" y="227.29" width="2.90" height="4.60" fill="#1aaeb8"/>
<rect x="247.75" y="229.14" width="3.10" height="0.90" fill="#6a6a6a"/>
<rect x="252.05" y="224.44" width="2.90" height="10.30" fill="#bdbdbd"/>
<rect x="252.05" y="227.29" width="2.90" height="4.60" fill="#1aaeb8"/>
<rect x="256.25" y="224.44" width="2.90" height="10.30" fill="#bdbdbd"/>
<rect x="260.45" y="224.44" width="2.90" height="10.30" fill="#bdbdbd"/>
<rect x="260.45" y="227.29" width="2.90" height="4.60" fill="#1aaeb8"/>
<rect x="264.65" y="224.44" width="2.90" height="10.30" fill="#bdbdbd"/>
<rect x="264.65" y="227.29" width="2.90" height="4.60" fill="#1aaeb8"/>
<rect x="268.85" y="224.44" width="2.90" height="10.30" fill="#bdbdbd"/>
<rect x="273.05" y="224.44" width="2.90" height="10.30" fill="#bdbdbd"/>
<rect x="277.25" y="224.44" width="2.90" height="10.30" fill="#bdbdbd"/>
<rect x="281.45" y="224.44" width="2.90" height="10.30" fill="#bdbdbd"/>
<rect x="285.65" y="224.44" width="2.90" height="10.30" fill="#bdbdbd"/>
<rect x="222.65" y="239.88" width="2.90" height="10.30" fill="#bdbdbd"/>
<rect x="222.65" y="243.03" width="2.90" height="4.00" fill="#57bb3c"/>
<rect x="226.85" y="239.88" width="2.90" height="10.30" fill="#bdbdbd"/>
<rect x="226.85" y="243.03" width="2.90" height="4.00" fill="#57bb3c"/>
<rect x="231.05" y="239.88" width="2.90" height="10.30" fill="#bdbdbd"/>
<rect x="235.25" y="239.88" width="2.90" height="10.30" fill="#bdbdbd"/>
<rect x="239.45" y="239.88" width="2.90" height="10.30" fill="#bdbdbd"/>
<rect x="243.65" y="239.88" width="2.90" height="10.30" fill="#bdbdbd"/>
<rect x="247.75" y="244.58" width="3.10" height="0.90" fill="#6a6a6a"/>
<rect x="252.05" y="239.88" width="2.90" height="10.30" fill="#bdbdbd"/>
<rect x="256.25" y="239.88" width="2.90" height="10.30" fill="#bdbdbd"/>
<rect x="260.45" y="239.88" width="2.90" height="10.30" fill="#bdbdbd"/>
<rect x="264.65" y="239.88" width="2.90" height="10.30" fill="#bdbdbd"/>
<rect x="268.85" y="239.88" width="2.90" height="10.30" fill="#bdbdbd"/>
<rect x="273.05" y="239.88" width="2.90" height="10.30" fill="#bdbdbd"/>
<rect x="277.25" y="239.88" width="2.90" height="10.30" fill="#bdbdbd"/>
<rect x="281.45" y="239.88" width="2.90" height="10.30" fill="#bdbdbd"/>
<rect x="285.65" y="239.88" width="2.90" height="10.30" fill="#bdbdbd"/>
<rect x="222.65" y="255.32" width="2.90" height="10.30" fill="#bdbdbd"/>
<rect x="226.85" y="255.32" width="2.90" height="10.30" fill="#bdbdbd"/>
<rect x="231.05" y="255.32" width="2.90" height="10.30" fill="#bdbdbd"/>
<rect x="235.25" y="255.32" width="2.90" height="10.30" fill="#bdbdbd"/>
<rect x="239.45" y="255.32" width="2.90" height="10.30" fill="#bdbdbd"/>
<rect x="243.65" y="255.32" width="2.90" height="10.30" fill="#bdbdbd"/>
<rect x="247.75" y="260.02" width="3.10" height="0.90" fill="#6a6a6a"/>
<rect x="252.05" y="255.32" width="2.90" height="10.30" fill="#bdbdbd"/>
<rect x="256.25" y="255.32" width="2.90" height="10.30" fill="#bdbdbd"/>
<rect x="260.45" y="255.32" width="2.90" height="10.30" fill="#bdbdbd"/>
<rect x="260.45" y="258.47" width="2.90" height="4.00" fill="#5a6a8a"/>
<rect x="264.65" y="255.32" width="2.90" height="10.30" fill="#bdbdbd"/>
<rect x="268.85" y="255.32" width="2.90" height="10.30" fill="#bdbdbd"/>
<rect x="268.85" y="258.47" width="2.90" height="4.00" fill="#57bb3c"/>
<rect x="273.05" y="255.32" width="2.90" height="10.30" fill="#bdbdbd"/>
<rect x="273.05" y="258.47" width="2.90" height="4.00" fill="#57bb3c"/>
<rect x="277.25" y="255.32" width="2.90" height="10.30" fill="#bdbdbd"/>
<rect x="281.45" y="255.32" width="2.90" height="10.30" fill="#bdbdbd"/>
<rect x="285.65" y="255.32" width="2.90" height="10.30" fill="#bdbdbd"/>
<rect x="222.65" y="270.76" width="2.90" height="10.30" fill="#bdbdbd"/>
<rect x="226.85" y="270.76" width="2.90" height="10.30" fill="#bdbdbd"/>
<rect x="231.05" y="270.76" width="2.90" height="10.30" fill="#bdbdbd"/>
<rect x="231.05" y="273.91" width="2.90" height="4.00" fill="#57bb3c"/>
<rect x="235.25" y="270.76" width="2.90" height="10.30" fill="#bdbdbd"/>
<rect x="239.45" y="270.76" width="2.90" height="10.30" fill="#bdbdbd"/>
<rect x="243.65" y="270.76" width="2.90" height="10.30" fill="#bdbdbd"/>
<rect x="247.75" y="275.46" width="3.10" height="0.90" fill="#6a6a6a"/>
<rect x="252.05" y="270.76" width="2.90" height="10.30" fill="#bdbdbd"/>
<rect x="256.25" y="270.76" width="2.90" height="10.30" fill="#bdbdbd"/>
<rect x="260.45" y="270.76" width="2.90" height="10.30" fill="#bdbdbd"/>
<rect x="264.65" y="270.76" width="2.90" height="10.30" fill="#bdbdbd"/>
<rect x="264.65" y="273.91" width="2.90" height="4.00" fill="#57bb3c"/>
<rect x="268.85" y="270.76" width="2.90" height="10.30" fill="#bdbdbd"/>
<rect x="273.05" y="270.76" width="2.90" height="10.30" fill="#bdbdbd"/>
<rect x="277.25" y="270.76" width="2.90" height="10.30" fill="#bdbdbd"/>
<rect x="277.25" y="273.91" width="2.90" height="4.00" fill="#57bb3c"/>
<rect x="281.45" y="270.76" width="2.90" height="10.30" fill="#bdbdbd"/>
<rect x="285.65" y="270.76" width="2.90" height="10.30" fill="#bdbdbd"/>
<rect x="285.65" y="273.91" width="2.90" height="4.00" fill="#57bb3c"/>
<rect x="222.65" y="286.20" width="2.90" height="10.30" fill="#bdbdbd"/>
<rect x="226.85" y="286.20" width="2.90" height="10.30" fill="#bdbdbd"/>
<rect x="231.05" y="286.20" width="2.90" height="10.30" fill="#bdbdbd"/>
<rect x="235.25" y="286.20" width="2.90" height="10.30" fill="#bdbdbd"/>
<rect x="239.45" y="286.20" width="2.90" height="10.30" fill="#bdbdbd"/>
<rect x="243.65" y="286.20" width="2.90" height="10.30" fill="#bdbdbd"/>
<rect x="247.75" y="290.90" width="3.10" height="0.90" fill="#6a6a6a"/>
<rect x="252.05" y="286.20" width="2.90" height="10.30" fill="#bdbdbd"/>
<rect x="256.25" y="286.20" width="2.90" height="10.30" fill="#bdbdbd"/>
<rect x="260.45" y="286.20" width="2.90" height="10.30" fill="#bdbdbd"/>
<rect x="264.65" y="286.20" width="2.90" height="10.30" fill="#bdbdbd"/>
<rect x="268.85" y="286.20" width="2.90" height="10.30" fill="#bdbdbd"/>
<rect x="273.05" y="286.20" width="2.90" height="10.30" fill="#bdbdbd"/>
<rect x="277.25" y="286.20" width="2.90" height="10.30" fill="#bdbdbd"/>
<rect x="281.45" y="286.20" width="2.90" height="10.30" fill="#bdbdbd"/>
<rect x="281.45" y="289.35" width="2.90" height="4.00" fill="#e7713a"/>
<rect x="285.65" y="286.20" width="2.90" height="10.30" fill="#bdbdbd"/>
<rect x="222.65" y="301.64" width="2.90" height="10.30" fill="#bdbdbd"/>
<rect x="222.65" y="304.79" width="2.90" height="4.00" fill="#000000"/>
<rect x="226.85" y="301.64" width="2.90" height="10.30" fill="#bdbdbd"/>
<rect x="226.85" y="304.79" width="2.90" height="4.00" fill="#57bb3c"/>
<rect x="231.05" y="301.64" width="2.90" height="10.30" fill="#bdbdbd"/>
<rect x="235.25" y="301.64" width="2.90" height="10.30" fill="#bdbdbd"/>
<rect x="239.45" y="301.64" width="2.90" height="10.30" fill="#bdbdbd"/>
<rect x="243.65" y="301.64" width="2.90" height="10.30" fill="#bdbdbd"/>
<rect x="247.75" y="306.34" width="3.10" height="0.90" fill="#6a6a6a"/>
<rect x="252.05" y="301.64" width="2.90" height="10.30" fill="#bdbdbd"/>
<rect x="256.25" y="301.64" width="2.90" height="10.30" fill="#bdbdbd"/>
<rect x="260.45" y="301.64" width="2.90" height="10.30" fill="#bdbdbd"/>
<rect x="260.45" y="304.79" width="2.90" height="4.00" fill="#000000"/>
<rect x="264.65" y="301.64" width="2.90" height="10.30" fill="#bdbdbd"/>
<rect x="268.85" y="301.64" width="2.90" height="10.30" fill="#bdbdbd"/>
<rect x="268.85" y="304.79" width="2.90" height="4.00" fill="#000000"/>
<rect x="273.05" y="301.64" width="2.90" height="10.30" fill="#bdbdbd"/>
<rect x="277.25" y="301.64" width="2.90" height="10.30" fill="#bdbdbd"/>
<rect x="281.45" y="301.64" width="2.90" height="10.30" fill="#bdbdbd"/>
<rect x="285.65" y="301.64" width="2.90" height="10.30" fill="#bdbdbd"/>
<rect x="285.65" y="304.79" width="2.90" height="4.00" fill="#8a3a1a"/>
<rect x="222.65" y="317.08" width="2.90" height="10.30" fill="#bdbdbd"/>
<rect x="226.85" y="317.08" width="2.90" height="10.30" fill="#bdbdbd"/>
<rect x="231.05" y="317.08" width="2.90" height="10.30" fill="#bdbdbd"/>
<rect x="235.25" y="317.08" width="2.90" height="10.30" fill="#bdbdbd"/>
<rect x="235.25" y="320.23" width="2.90" height="4.00" fill="#000000"/>
<rect x="239.45" y="317.08" width="2.90" height="10.30" fill="#bdbdbd"/>
<rect x="243.65" y="317.08" width="2.90" height="10.30" fill="#bdbdbd"/>
<rect x="247.75" y="321.78" width="3.10" height="0.90" fill="#6a6a6a"/>
<rect x="252.05" y="317.08" width="2.90" height="10.30" fill="#bdbdbd"/>
<rect x="256.25" y="317.08" width="2.90" height="10.30" fill="#bdbdbd"/>
<rect x="260.45" y="317.08" width="2.90" height="10.30" fill="#bdbdbd"/>
<rect x="260.45" y="320.23" width="2.90" height="4.00" fill="#000000"/>
<rect x="264.65" y="317.08" width="2.90" height="10.30" fill="#bdbdbd"/>
<rect x="264.65" y="320.23" width="2.90" height="4.00" fill="#57bb3c"/>
<rect x="268.85" y="317.08" width="2.90" height="10.30" fill="#bdbdbd"/>
<rect x="273.05" y="317.08" width="2.90" height="10.30" fill="#bdbdbd"/>
<rect x="277.25" y="317.08" width="2.90" height="10.30" fill="#bdbdbd"/>
<rect x="281.45" y="317.08" width="2.90" height="10.30" fill="#bdbdbd"/>
<rect x="281.45" y="320.23" width="2.90" height="4.00" fill="#000000"/>
<rect x="285.65" y="317.08" width="2.90" height="10.30" fill="#bdbdbd"/>
<rect x="222.65" y="332.52" width="2.90" height="10.30" fill="#bdbdbd"/>
<rect x="222.65" y="335.67" width="2.90" height="4.00" fill="#57bb3c"/>
<rect x="226.85" y="332.52" width="2.90" height="10.30" fill="#bdbdbd"/>
<rect x="231.05" y="332.52" width="2.90" height="10.30" fill="#bdbdbd"/>
<rect x="235.25" y="332.52" width="2.90" height="10.30" fill="#bdbdbd"/>
<rect x="239.45" y="332.52" width="2.90" height="10.30" fill="#bdbdbd"/>
<rect x="243.65" y="332.52" width="2.90" height="10.30" fill="#bdbdbd"/>
<rect x="247.75" y="337.22" width="3.10" height="0.90" fill="#6a6a6a"/>
<rect x="252.05" y="332.52" width="2.90" height="10.30" fill="#bdbdbd"/>
<rect x="252.05" y="335.67" width="2.90" height="4.00" fill="#000000"/>
<rect x="256.25" y="332.52" width="2.90" height="10.30" fill="#bdbdbd"/>
<rect x="260.45" y="332.52" width="2.90" height="10.30" fill="#bdbdbd"/>
<rect x="264.65" y="332.52" width="2.90" height="10.30" fill="#bdbdbd"/>
<rect x="268.85" y="332.52" width="2.90" height="10.30" fill="#bdbdbd"/>
<rect x="273.05" y="332.52" width="2.90" height="10.30" fill="#bdbdbd"/>
<rect x="273.05" y="335.67" width="2.90" height="4.00" fill="#57bb3c"/>
<rect x="277.25" y="332.52" width="2.90" height="10.30" fill="#bdbdbd"/>
<rect x="281.45" y="332.52" width="2.90" height="10.30" fill="#bdbdbd"/>
<rect x="285.65" y="332.52" width="2.90" height="10.30" fill="#bdbdbd"/>
<rect x="222.65" y="347.96" width="2.90" height="10.30" fill="#bdbdbd"/>
<rect x="226.85" y="347.96" width="2.90" height="10.30" fill="#bdbdbd"/>
<rect x="231.05" y="347.96" width="2.90" height="10.30" fill="#bdbdbd"/>
<rect x="231.05" y="351.11" width="2.90" height="4.00" fill="#57bb3c"/>
<rect x="235.25" y="347.96" width="2.90" height="10.30" fill="#bdbdbd"/>
<rect x="239.45" y="347.96" width="2.90" height="10.30" fill="#bdbdbd"/>
<rect x="243.65" y="347.96" width="2.90" height="10.30" fill="#bdbdbd"/>
<rect x="247.75" y="352.66" width="3.10" height="0.90" fill="#6a6a6a"/>
<rect x="252.05" y="347.96" width="2.90" height="10.30" fill="#bdbdbd"/>
<rect x="256.25" y="347.96" width="2.90" height="10.30" fill="#bdbdbd"/>
<rect x="260.45" y="347.96" width="2.90" height="10.30" fill="#bdbdbd"/>
<rect x="264.65" y="347.96" width="2.90" height="10.30" fill="#bdbdbd"/>
<rect x="268.85" y="347.96" width="2.90" height="10.30" fill="#bdbdbd"/>
<rect x="273.05" y="347.96" width="2.90" height="10.30" fill="#bdbdbd"/>
<rect x="277.25" y="347.96" width="2.90" height="10.30" fill="#bdbdbd"/>
<rect x="281.45" y="347.96" width="2.90" height="10.30" fill="#bdbdbd"/>
<rect x="285.65" y="347.96" width="2.90" height="10.30" fill="#bdbdbd"/>
<rect x="222.65" y="363.40" width="2.90" height="10.30" fill="#bdbdbd"/>
<rect x="226.85" y="363.40" width="2.90" height="10.30" fill="#bdbdbd"/>
<rect x="231.05" y="363.40" width="2.90" height="10.30" fill="#bdbdbd"/>
<rect x="235.25" y="363.40" width="2.90" height="10.30" fill="#bdbdbd"/>
<rect x="239.45" y="363.40" width="2.90" height="10.30" fill="#bdbdbd"/>
<rect x="239.45" y="366.55" width="2.90" height="4.00" fill="#57bb3c"/>
<rect x="243.65" y="363.40" width="2.90" height="10.30" fill="#bdbdbd"/>
<rect x="247.75" y="368.10" width="3.10" height="0.90" fill="#6a6a6a"/>
<rect x="252.05" y="363.40" width="2.90" height="10.30" fill="#bdbdbd"/>
<rect x="256.25" y="363.40" width="2.90" height="10.30" fill="#bdbdbd"/>
<rect x="260.45" y="363.40" width="2.90" height="10.30" fill="#bdbdbd"/>
<rect x="264.65" y="363.40" width="2.90" height="10.30" fill="#bdbdbd"/>
<rect x="268.85" y="363.40" width="2.90" height="10.30" fill="#bdbdbd"/>
<rect x="273.05" y="363.40" width="2.90" height="10.30" fill="#bdbdbd"/>
<rect x="277.25" y="363.40" width="2.90" height="10.30" fill="#bdbdbd"/>
<rect x="281.45" y="363.40" width="2.90" height="10.30" fill="#bdbdbd"/>
<rect x="285.65" y="363.40" width="2.90" height="10.30" fill="#bdbdbd"/>
<rect x="222.65" y="378.84" width="2.90" height="10.30" fill="#bdbdbd"/>
<rect x="226.85" y="378.84" width="2.90" height="10.30" fill="#bdbdbd"/>
<rect x="231.05" y="378.84" width="2.90" height="10.30" fill="#bdbdbd"/>
<rect x="235.25" y="378.84" width="2.90" height="10.30" fill="#bdbdbd"/>
<rect x="239.45" y="378.84" width="2.90" height="10.30" fill="#bdbdbd"/>
<rect x="243.65" y="378.84" width="2.90" height="10.30" fill="#bdbdbd"/>
<rect x="243.65" y="381.99" width="2.90" height="4.00" fill="#57bb3c"/>
<rect x="247.75" y="383.54" width="3.10" height="0.90" fill="#6a6a6a"/>
<rect x="252.05" y="378.84" width="2.90" height="10.30" fill="#bdbdbd"/>
<rect x="256.25" y="378.84" width="2.90" height="10.30" fill="#bdbdbd"/>
<rect x="260.45" y="378.84" width="2.90" height="10.30" fill="#bdbdbd"/>
<rect x="264.65" y="378.84" width="2.90" height="10.30" fill="#bdbdbd"/>
<rect x="268.85" y="378.84" width="2.90" height="10.30" fill="#bdbdbd"/>
<rect x="273.05" y="378.84" width="2.90" height="10.30" fill="#bdbdbd"/>
<rect x="277.25" y="378.84" width="2.90" height="10.30" fill="#bdbdbd"/>
<rect x="281.45" y="378.84" width="2.90" height="10.30" fill="#bdbdbd"/>
<rect x="285.65" y="378.84" width="2.90" height="10.30" fill="#bdbdbd"/>
<rect x="222.65" y="394.28" width="2.90" height="10.30" fill="#bdbdbd"/>
<rect x="226.85" y="394.28" width="2.90" height="10.30" fill="#bdbdbd"/>
<rect x="231.05" y="394.28" width="2.90" height="10.30" fill="#bdbdbd"/>
<rect x="235.25" y="394.28" width="2.90" height="10.30" fill="#bdbdbd"/>
<rect x="239.45" y="394.28" width="2.90" height="10.30" fill="#bdbdbd"/>
<rect x="243.65" y="394.28" width="2.90" height="10.30" fill="#bdbdbd"/>
<rect x="243.65" y="397.43" width="2.90" height="4.00" fill="#57bb3c"/>
<rect x="247.75" y="398.98" width="3.10" height="0.90" fill="#6a6a6a"/>
<rect x="252.05" y="394.28" width="2.90" height="10.30" fill="#bdbdbd"/>
<rect x="256.25" y="394.28" width="2.90" height="10.30" fill="#bdbdbd"/>
<rect x="260.45" y="394.28" width="2.90" height="10.30" fill="#bdbdbd"/>
<rect x="264.65" y="394.28" width="2.90" height="10.30" fill="#bdbdbd"/>
<rect x="268.85" y="394.28" width="2.90" height="10.30" fill="#bdbdbd"/>
<rect x="273.05" y="394.28" width="2.90" height="10.30" fill="#bdbdbd"/>
<rect x="277.25" y="394.28" width="2.90" height="10.30" fill="#bdbdbd"/>
<rect x="281.45" y="394.28" width="2.90" height="10.30" fill="#bdbdbd"/>
<rect x="285.65" y="394.28" width="2.90" height="10.30" fill="#bdbdbd"/>
<text x="2.00" y="141.10" font-size="11" font-weight="bold" stroke="#1c1c1c" stroke-width="0.3" fill="#1c1c1c">BRAF (Class I)</text>
<text x="126.00" y="140.30" font-size="11.4" font-weight="bold" stroke="#1c1c1c" stroke-width="0.3" fill="#1c1c1c">0%</text>
<text x="194.80" y="140.30" font-size="11.4" font-weight="bold" stroke="#1c1c1c" stroke-width="0.3" fill="#1c1c1c">44%</text>
<rect x="170.80" y="132.00" width="12.50" height="9.90" fill="#858585"/>
<text x="2.00" y="156.54" font-size="11" font-weight="bold" stroke="#1c1c1c" stroke-width="0.3" fill="#1c1c1c">BRAF (Class II)</text>
<text x="126.00" y="155.85" font-size="11.4" font-weight="bold" stroke="#1c1c1c" stroke-width="0.3" fill="#1c1c1c">14%</text>
<text x="194.80" y="155.85" font-size="11.4" font-weight="bold" stroke="#1c1c1c" stroke-width="0.3" fill="#1c1c1c">13%</text>
<rect x="166.82" y="147.44" width="3.98" height="9.90" fill="#858585"/>
<rect x="170.80" y="147.44" width="3.69" height="9.90" fill="#858585"/>
<text x="2.00" y="171.98" font-size="11" font-weight="bold" stroke="#1c1c1c" stroke-width="0.3" fill="#1c1c1c">NRAS</text>
<text x="126.00" y="171.40" font-size="11.4" font-weight="bold" stroke="#1c1c1c" stroke-width="0.3" fill="#1c1c1c">14%</text>
<text x="194.80" y="171.40" font-size="11.4" font-weight="bold" stroke="#1c1c1c" stroke-width="0.3" fill="#1c1c1c">38%</text>
<rect x="166.82" y="162.88" width="3.98" height="9.90" fill="#858585"/>
<rect x="170.80" y="162.88" width="10.79" height="9.90" fill="#858585"/>
<text x="2.00" y="187.42" font-size="11" font-weight="bold" stroke="#1c1c1c" stroke-width="0.3" fill="#1c1c1c">KRAS</text>
<text x="126.00" y="186.95" font-size="11.4" font-weight="bold" stroke="#1c1c1c" stroke-width="0.3" fill="#1c1c1c">29%</text>
<text x="194.80" y="186.95" font-size="11.4" font-weight="bold" stroke="#1c1c1c" stroke-width="0.3" fill="#1c1c1c">6%</text>
<rect x="162.56" y="178.32" width="8.24" height="9.90" fill="#858585"/>
<rect x="170.80" y="178.32" width="1.70" height="9.90" fill="#858585"/>
<text x="2.00" y="202.86" font-size="11" font-weight="bold" stroke="#1c1c1c" stroke-width="0.3" fill="#1c1c1c">RET</text>
<text x="126.00" y="202.50" font-size="11.4" font-weight="bold" stroke="#1c1c1c" stroke-width="0.3" fill="#1c1c1c">29%</text>
<text x="194.80" y="202.50" font-size="11.4" font-weight="bold" stroke="#1c1c1c" stroke-width="0.3" fill="#1c1c1c">0%</text>
<rect x="162.56" y="193.76" width="8.24" height="9.90" fill="#858585"/>
<text x="2.00" y="218.30" font-size="11" font-weight="bold" stroke="#1c1c1c" stroke-width="0.3" fill="#1c1c1c">ALK</text>
<text x="126.00" y="218.05" font-size="11.4" font-weight="bold" stroke="#1c1c1c" stroke-width="0.3" fill="#1c1c1c">14%</text>
<text x="194.80" y="218.05" font-size="11.4" font-weight="bold" stroke="#1c1c1c" stroke-width="0.3" fill="#1c1c1c">0%</text>
<rect x="166.82" y="209.20" width="3.98" height="9.90" fill="#858585"/>
<text x="2.00" y="233.74" font-size="11" font-weight="bold" stroke="#1c1c1c" stroke-width="0.3" fill="#1c1c1c">TERT</text>
<text x="126.00" y="233.60" font-size="11.4" font-weight="bold" stroke="#1c1c1c" stroke-width="0.3" fill="#1c1c1c">60%</text>
<text x="194.80" y="233.60" font-size="11.4" font-weight="bold" stroke="#1c1c1c" stroke-width="0.3" fill="#1c1c1c">60%</text>
<rect x="153.76" y="224.64" width="17.04" height="9.90" fill="#858585"/>
<rect x="170.80" y="224.64" width="17.04" height="9.90" fill="#858585"/>
<text x="2.00" y="249.18" font-size="11" font-weight="bold" stroke="#1c1c1c" stroke-width="0.3" fill="#1c1c1c">NOTCH</text>
<text x="126.00" y="249.15" font-size="11.4" font-weight="bold" stroke="#1c1c1c" stroke-width="0.3" fill="#1c1c1c">0%</text>
<text x="194.80" y="249.15" font-size="11.4" font-weight="bold" stroke="#1c1c1c" stroke-width="0.3" fill="#1c1c1c">13%</text>
<rect x="170.80" y="240.08" width="3.69" height="9.90" fill="#858585"/>
<text x="2.00" y="264.62" font-size="11" font-weight="bold" stroke="#1c1c1c" stroke-width="0.3" fill="#1c1c1c">RTK</text>
<text x="126.00" y="264.70" font-size="11.4" font-weight="bold" stroke="#1c1c1c" stroke-width="0.3" fill="#1c1c1c">17%</text>
<text x="194.80" y="264.70" font-size="11.4" font-weight="bold" stroke="#1c1c1c" stroke-width="0.3" fill="#1c1c1c">20%</text>
<rect x="165.97" y="255.52" width="4.83" height="9.90" fill="#858585"/>
<rect x="170.80" y="255.52" width="5.68" height="9.90" fill="#858585"/>
<text x="2.00" y="280.06" font-size="11" font-weight="bold" stroke="#1c1c1c" stroke-width="0.3" fill="#1c1c1c">mTOR</text>
<text x="126.00" y="280.25" font-size="11.4" font-weight="bold" stroke="#1c1c1c" stroke-width="0.3" fill="#1c1c1c">0%</text>
<text x="194.80" y="280.25" font-size="11.4" font-weight="bold" stroke="#1c1c1c" stroke-width="0.3" fill="#1c1c1c">27%</text>
<rect x="170.80" y="270.96" width="7.67" height="9.90" fill="#858585"/>
<text x="2.00" y="295.50" font-size="11" font-weight="bold" stroke="#1c1c1c" stroke-width="0.3" fill="#1c1c1c">EIF1AX</text>
<text x="126.00" y="295.80" font-size="11.4" font-weight="bold" stroke="#1c1c1c" stroke-width="0.3" fill="#1c1c1c">33%</text>
<text x="194.80" y="295.80" font-size="11.4" font-weight="bold" stroke="#1c1c1c" stroke-width="0.3" fill="#1c1c1c">7%</text>
<rect x="161.43" y="286.40" width="9.37" height="9.90" fill="#858585"/>
<rect x="170.80" y="286.40" width="1.99" height="9.90" fill="#858585"/>
<text x="2.00" y="310.94" font-size="11" font-weight="bold" stroke="#1c1c1c" stroke-width="0.3" fill="#1c1c1c">Epigenetic</text>
<text x="126.00" y="311.35" font-size="11.4" font-weight="bold" stroke="#1c1c1c" stroke-width="0.3" fill="#1c1c1c">33%</text>
<text x="194.80" y="311.35" font-size="11.4" font-weight="bold" stroke="#1c1c1c" stroke-width="0.3" fill="#1c1c1c">33%</text>
<rect x="161.43" y="301.84" width="9.37" height="9.90" fill="#858585"/>
<rect x="170.80" y="301.84" width="9.37" height="9.90" fill="#858585"/>
<text x="2.00" y="326.38" font-size="11" font-weight="bold" stroke="#1c1c1c" stroke-width="0.3" fill="#1c1c1c">Splicing</text>
<text x="126.00" y="326.90" font-size="11.4" font-weight="bold" stroke="#1c1c1c" stroke-width="0.3" fill="#1c1c1c">0%</text>
<text x="194.80" y="326.90" font-size="11.4" font-weight="bold" stroke="#1c1c1c" stroke-width="0.3" fill="#1c1c1c">27%</text>
<rect x="170.80" y="317.28" width="7.67" height="9.90" fill="#858585"/>
<text x="2.00" y="341.82" font-size="11" font-weight="bold" stroke="#1c1c1c" stroke-width="0.3" fill="#1c1c1c">DDR</text>
<text x="126.00" y="342.45" font-size="11.4" font-weight="bold" stroke="#1c1c1c" stroke-width="0.3" fill="#1c1c1c">43%</text>
<text x="194.80" y="342.45" font-size="11.4" font-weight="bold" stroke="#1c1c1c" stroke-width="0.3" fill="#1c1c1c">20%</text>
<rect x="158.59" y="332.72" width="12.21" height="9.90" fill="#858585"/>
<rect x="170.80" y="332.72" width="5.68" height="9.90" fill="#858585"/>
<text x="2.00" y="357.26" font-size="11" font-weight="bold" stroke="#1c1c1c" stroke-width="0.3" fill="#1c1c1c">BCOR</text>
<text x="126.00" y="358.00" font-size="11.4" font-weight="bold" stroke="#1c1c1c" stroke-width="0.3" fill="#1c1c1c">0%</text>
<text x="194.80" y="358.00" font-size="11.4" font-weight="bold" stroke="#1c1c1c" stroke-width="0.3" fill="#1c1c1c">7%</text>
<rect x="170.80" y="348.16" width="1.99" height="9.90" fill="#858585"/>
<text x="2.00" y="372.70" font-size="11" font-weight="bold" stroke="#1c1c1c" stroke-width="0.3" fill="#1c1c1c">CARD11</text>
<text x="126.00" y="373.55" font-size="11.4" font-weight="bold" stroke="#1c1c1c" stroke-width="0.3" fill="#1c1c1c">0%</text>
<text x="194.80" y="373.55" font-size="11.4" font-weight="bold" stroke="#1c1c1c" stroke-width="0.3" fill="#1c1c1c">7%</text>
<rect x="170.80" y="363.60" width="1.99" height="9.90" fill="#858585"/>
<text x="2.00" y="388.14" font-size="11" font-weight="bold" stroke="#1c1c1c" stroke-width="0.3" fill="#1c1c1c">DICER1</text>
<text x="126.00" y="389.10" font-size="11.4" font-weight="bold" stroke="#1c1c1c" stroke-width="0.3" fill="#1c1c1c">0%</text>
<text x="194.80" y="389.10" font-size="11.4" font-weight="bold" stroke="#1c1c1c" stroke-width="0.3" fill="#1c1c1c">7%</text>
<rect x="170.80" y="379.04" width="1.99" height="9.90" fill="#858585"/>
<text x="2.00" y="403.58" font-size="11" font-weight="bold" stroke="#1c1c1c" stroke-width="0.3" fill="#1c1c1c">FAT1</text>
<text x="126.00" y="404.65" font-size="11.4" font-weight="bold" stroke="#1c1c1c" stroke-width="0.3" fill="#1c1c1c">0%</text>
<text x="194.80" y="404.65" font-size="11.4" font-weight="bold" stroke="#1c1c1c" stroke-width="0.3" fill="#1c1c1c">7%</text>
<rect x="170.80" y="394.48" width="1.99" height="9.90" fill="#858585"/>
<line x1="170.80" y1="129.60" x2="170.80" y2="406.30" stroke="#4a4a4a" stroke-width="1.2"/>
<text x="73.60" y="412.70" font-size="6.4" font-weight="bold" stroke="#d8384a" stroke-width="0.3" fill="#d8384a">ER</text>
<text x="84.40" y="412.70" font-size="6.4" font-weight="bold" stroke="#d8384a" stroke-width="0.3" fill="#d8384a">#</text>
<text x="92.00" y="412.70" font-size="6.4" font-weight="bold" stroke="#d8384a" stroke-width="0.3" text-anchor="middle" fill="#d8384a">6</text>
<text x="96.23" y="412.70" font-size="6.4" font-weight="bold" stroke="#d8384a" stroke-width="0.3" text-anchor="middle" fill="#d8384a">1</text>
<text x="100.46" y="412.70" font-size="6.4" font-weight="bold" stroke="#d8384a" stroke-width="0.3" text-anchor="middle" fill="#d8384a">2</text>
<text x="104.69" y="412.70" font-size="6.4" font-weight="bold" stroke="#d8384a" stroke-width="0.3" text-anchor="middle" fill="#d8384a">5</text>
<text x="108.92" y="412.70" font-size="6.4" font-weight="bold" stroke="#d8384a" stroke-width="0.3" text-anchor="middle" fill="#d8384a">4</text>
<text x="113.15" y="412.70" font-size="6.4" font-weight="bold" stroke="#d8384a" stroke-width="0.3" text-anchor="middle" fill="#d8384a">7</text>
<text x="117.38" y="412.70" font-size="6.4" font-weight="bold" stroke="#d8384a" stroke-width="0.3" text-anchor="middle" fill="#d8384a">8</text>
<text x="199.50" y="415.20" font-size="6.2" font-weight="bold" stroke="#4656a8" stroke-width="0.3" fill="#4656a8">NR #</text>
<text x="0" y="0" font-size="5.1" font-weight="bold" fill="#4a5cb0" stroke="#4a5cb0" stroke-width="0.1" transform="translate(225.90,411.60) rotate(-90)">1B</text>
<text x="0" y="0" font-size="5.1" font-weight="bold" fill="#4a5cb0" stroke="#4a5cb0" stroke-width="0.1" transform="translate(230.10,419.30) rotate(-90)">8A</text>
<text x="0" y="0" font-size="5.1" font-weight="bold" fill="#4a5cb0" stroke="#4a5cb0" stroke-width="0.1" transform="translate(234.30,411.60) rotate(-90)">4B</text>
<text x="0" y="0" font-size="5.1" font-weight="bold" fill="#4a5cb0" stroke="#4a5cb0" stroke-width="0.1" transform="translate(238.50,419.30) rotate(-90)">5A</text>
<text x="0" y="0" font-size="5.1" font-weight="bold" fill="#4a5cb0" stroke="#4a5cb0" stroke-width="0.1" transform="translate(242.70,411.60) rotate(-90)">8B</text>
<text x="0" y="0" font-size="5.1" font-weight="bold" fill="#4a5cb0" stroke="#4a5cb0" stroke-width="0.1" transform="translate(246.90,419.30) rotate(-90)">5B</text>
<text x="0" y="0" font-size="5.1" font-weight="bold" fill="#4a5cb0" stroke="#4a5cb0" stroke-width="0.1" transform="translate(251.10,411.60) rotate(-90)">7A</text>
<text x="0" y="0" font-size="5.1" font-weight="bold" fill="#4a5cb0" stroke="#4a5cb0" stroke-width="0.1" transform="translate(255.30,419.30) rotate(-90)">3A</text>
<text x="0" y="0" font-size="5.1" font-weight="bold" fill="#4a5cb0" stroke="#4a5cb0" stroke-width="0.1" transform="translate(259.50,411.60) rotate(-90)">6A</text>
<text x="0" y="0" font-size="5.1" font-weight="bold" fill="#4a5cb0" stroke="#4a5cb0" stroke-width="0.1" transform="translate(263.70,419.30) rotate(-90)">1A</text>
<text x="0" y="0" font-size="5.1" font-weight="bold" fill="#4a5cb0" stroke="#4a5cb0" stroke-width="0.1" transform="translate(267.90,411.60) rotate(-90)">2B</text>
<text x="0" y="0" font-size="5.1" font-weight="bold" fill="#4a5cb0" stroke="#4a5cb0" stroke-width="0.1" transform="translate(272.10,419.30) rotate(-90)">4A</text>
<text x="0" y="0" font-size="5.1" font-weight="bold" fill="#4a5cb0" stroke="#4a5cb0" stroke-width="0.1" transform="translate(276.30,411.60) rotate(-90)">6B</text>
<text x="0" y="0" font-size="5.1" font-weight="bold" fill="#4a5cb0" stroke="#4a5cb0" stroke-width="0.1" transform="translate(280.50,419.30) rotate(-90)">7B</text>
<text x="0" y="0" font-size="5.1" font-weight="bold" fill="#4a5cb0" stroke="#4a5cb0" stroke-width="0.1" transform="translate(284.70,411.60) rotate(-90)">2A</text>
<text x="0" y="0" font-size="5.1" font-weight="bold" fill="#4a5cb0" stroke="#4a5cb0" stroke-width="0.1" transform="translate(288.90,419.30) rotate(-90)">3B</text>
<text x="302.80" y="28.10" font-size="10.65" font-weight="bold" stroke="#1c1c1c" stroke-width="0.3" fill="#1c1c1c">Sample type</text>
<rect x="374.60" y="16.00" width="3.40" height="12.20" fill="#d03c26"/>
<text x="380.60" y="28.10" font-size="10.7" stroke="#1c1c1c" stroke-width="0.12" fill="#1c1c1c">Metastasis</text>
<rect x="439.70" y="16.00" width="3.40" height="12.20" fill="#3c5fb2"/>
<text x="445.20" y="28.10" font-size="10.7" stroke="#1c1c1c" stroke-width="0.12" fill="#1c1c1c">Primary</text>
<text x="302.80" y="46.00" font-size="10.65" font-weight="bold" stroke="#1c1c1c" stroke-width="0.3" fill="#1c1c1c">Sex</text>
<rect x="374.60" y="35.00" width="3.40" height="11.80" fill="#d877ad"/>
<text x="381.00" y="46.00" font-size="10.7" stroke="#1c1c1c" stroke-width="0.12" fill="#1c1c1c">F</text>
<rect x="412.00" y="35.00" width="3.40" height="11.80" fill="#3a6cc0"/>
<text x="417.60" y="46.00" font-size="10.7" stroke="#1c1c1c" stroke-width="0.12" fill="#1c1c1c">M</text>
<text x="302.80" y="66.00" font-size="10.65" font-weight="bold" stroke="#1c1c1c" stroke-width="0.3" fill="#1c1c1c">Tumor type</text>
<rect x="374.60" y="54.20" width="3.40" height="11.60" fill="#d03c26"/>
<text x="381.00" y="66.00" font-size="10.7" stroke="#1c1c1c" stroke-width="0.12" fill="#1c1c1c">FTC</text>
<rect x="412.00" y="54.20" width="3.40" height="11.60" fill="#3c5fb2"/>
<text x="417.60" y="66.00" font-size="10.7" stroke="#1c1c1c" stroke-width="0.12" fill="#1c1c1c">PDTC</text>
<rect x="374.60" y="70.30" width="3.40" height="11.70" fill="#1c8a3e"/>
<text x="381.00" y="82.30" font-size="10.7" stroke="#1c1c1c" stroke-width="0.12" fill="#1c1c1c">PTC</text>
<rect x="410.50" y="70.30" width="3.40" height="11.70" fill="#f0a232"/>
<text x="417.80" y="82.30" font-size="10.7" stroke="#1c1c1c" stroke-width="0.12" fill="#1c1c1c">Struma ovarii</text>
<text x="302.80" y="101.10" font-size="10.65" font-weight="bold" stroke="#1c1c1c" stroke-width="0.3" fill="#1c1c1c">Sequencing</text>
<rect x="374.60" y="89.00" width="3.40" height="11.80" fill="#d03c26"/>
<text x="381.00" y="101.10" font-size="10.7" stroke="#1c1c1c" stroke-width="0.12" fill="#1c1c1c">IMPACT</text>
<rect x="429.30" y="89.00" width="3.40" height="11.80" fill="#3c5fb2"/>
<text x="434.40" y="101.10" font-size="10.7" stroke="#1c1c1c" stroke-width="0.12" fill="#1c1c1c">WES/IMPACT</text>
<rect x="317.80" y="105.50" width="3.40" height="12.50" fill="#722487"/>
<text x="322.70" y="117.90" font-size="10.7" stroke="#1c1c1c" stroke-width="0.12" fill="#1c1c1c">WES</text>
<rect x="357.40" y="105.50" width="3.40" height="12.50" fill="#f0a232"/>
<text x="362.50" y="117.90" font-size="10.7" stroke="#1c1c1c" stroke-width="0.12" fill="#1c1c1c">Sequenom</text>
<rect x="421.60" y="105.50" width="3.40" height="12.50" fill="#1c8a3e"/>
<text x="426.70" y="117.90" font-size="10.7" stroke="#1c1c1c" stroke-width="0.12" fill="#1c1c1c">FoundationOne</text>
<text x="303.10" y="147.80" font-size="10.65" font-weight="bold" stroke="#1c1c1c" stroke-width="0.3" fill="#1c1c1c">Mutation count</text>
<text x="387.00" y="143.60" font-size="10.2" stroke="#1c1c1c" stroke-width="0.12" fill="#1c1c1c">0</text>
<text x="421.70" y="144.10" font-size="10.2" stroke="#1c1c1c" stroke-width="0.12" fill="#1c1c1c">478</text>
<rect x="444.70" y="143.40" width="4.60" height="1.10" fill="#333"/>
<text x="453.20" y="147.80" font-size="10.7" stroke="#1c1c1c" stroke-width="0.12" fill="#1c1c1c">Not available</text>
<text x="303.10" y="170.40" font-size="10.65" font-weight="bold" stroke="#1c1c1c" stroke-width="0.3" fill="#1c1c1c">MSI score</text>
<text x="387.00" y="167.70" font-size="10.2" stroke="#1c1c1c" stroke-width="0.12" fill="#1c1c1c">0</text>
<text x="422.30" y="168.20" font-size="10.2" stroke="#1c1c1c" stroke-width="0.12" fill="#1c1c1c">7.96</text>
<rect x="444.70" y="166.00" width="4.60" height="1.10" fill="#333"/>
<text x="453.20" y="170.40" font-size="10.7" stroke="#1c1c1c" stroke-width="0.12" fill="#1c1c1c">Not available</text>
<text x="303.10" y="193.60" font-size="10.65" font-weight="bold" stroke="#1c1c1c" stroke-width="0.3" fill="#1c1c1c">TMB</text>
<text x="387.00" y="191.30" font-size="10.2" stroke="#1c1c1c" stroke-width="0.12" fill="#1c1c1c">0</text>
<text x="422.30" y="191.80" font-size="10.2" stroke="#1c1c1c" stroke-width="0.12" fill="#1c1c1c">6.75</text>
<rect x="444.70" y="189.20" width="4.60" height="1.10" fill="#333"/>
<text x="453.20" y="193.60" font-size="10.7" stroke="#1c1c1c" stroke-width="0.12" fill="#1c1c1c">Not available</text>
<path d="M390.8,149.2 L390.8,141.4 C393.5,137.2 402,135.8 418.4,135.4 L418.4,149.2 Z" fill="#1c8a3e"/>
<path d="M390.9,173.0 L418.4,159.4 L418.4,173.0 Z" fill="#1c8a3e"/>
<path d="M390.9,196.6 L418.4,183.0 L418.4,196.6 Z" fill="#1c8a3e"/>
<text x="303.70" y="215.60" font-size="10.8" font-weight="bold" stroke="#1c1c1c" stroke-width="0.3" fill="#1c1c1c">Genetic alteration</text>
<rect x="303.50" y="217.00" width="91.80" height="1.20" fill="#222"/>
<rect x="303.80" y="223.00" width="4.60" height="16.00" fill="#bdbdbd"/>
<rect x="303.80" y="229.00" width="4.60" height="5.40" fill="#0a5a28"/>
<text x="310.60" y="234.70" font-size="10.8" stroke="#1c1c1c" stroke-width="0.12" fill="#1c1c1c">Missense mutation (putative driver)</text>
<rect x="303.80" y="244.10" width="4.60" height="16.00" fill="#bdbdbd"/>
<rect x="303.80" y="250.10" width="4.60" height="5.40" fill="#57bb3c"/>
<text x="310.60" y="255.80" font-size="10.8" stroke="#1c1c1c" stroke-width="0.12" fill="#1c1c1c">Missense mutation (unknown significance)</text>
<rect x="303.80" y="265.20" width="4.60" height="16.00" fill="#bdbdbd"/>
<rect x="303.80" y="271.20" width="4.60" height="5.40" fill="#000000"/>
<text x="310.60" y="276.90" font-size="10.8" stroke="#1c1c1c" stroke-width="0.12" fill="#1c1c1c">Truncating mutation (putative driver)</text>
<rect x="303.80" y="286.30" width="4.60" height="16.00" fill="#bdbdbd"/>
<rect x="303.80" y="292.30" width="4.60" height="5.40" fill="#5a6a8a"/>
<text x="310.60" y="298.00" font-size="10.8" stroke="#1c1c1c" stroke-width="0.12" fill="#1c1c1c">Truncating mutation (unknown significance)</text>
<rect x="303.80" y="307.40" width="4.60" height="16.00" fill="#bdbdbd"/>
<rect x="303.80" y="309.50" width="4.60" height="11.60" fill="#7f3292"/>
<text x="310.60" y="319.10" font-size="10.8" stroke="#1c1c1c" stroke-width="0.12" fill="#1c1c1c">Fusion mutation (putative driver)</text>
<rect x="303.80" y="328.50" width="4.60" height="16.00" fill="#bdbdbd"/>
<rect x="303.80" y="334.50" width="4.60" height="5.40" fill="#1aaeb8"/>
<text x="310.60" y="340.20" font-size="10.8" stroke="#1c1c1c" stroke-width="0.12" fill="#1c1c1c">Promoter mutation (putative driver)</text>
<rect x="303.80" y="349.60" width="4.60" height="16.00" fill="#bdbdbd"/>
<rect x="303.80" y="355.60" width="4.60" height="5.40" fill="#e7713a"/>
<text x="310.60" y="361.30" font-size="10.8" stroke="#1c1c1c" stroke-width="0.12" fill="#1c1c1c">Splice mutation (putative driver)</text>
<rect x="303.80" y="370.70" width="4.60" height="16.00" fill="#bdbdbd"/>
<rect x="303.80" y="376.70" width="4.60" height="5.40" fill="#8a3a1a"/>
<text x="310.60" y="382.40" font-size="10.8" stroke="#1c1c1c" stroke-width="0.12" fill="#1c1c1c">Inframe mutation (unknown significance)</text>
<rect x="303.80" y="391.80" width="4.60" height="16.00" fill="#bdbdbd"/>
<text x="310.60" y="403.50" font-size="10.8" stroke="#1c1c1c" stroke-width="0.12" fill="#1c1c1c">No alterations</text>
<rect x="406.70" y="399.20" width="4.30" height="1.10" fill="#333"/>
<text x="414.00" y="403.50" font-size="10.7" stroke="#1c1c1c" stroke-width="0.12" fill="#1c1c1c">Not available</text>
<text x="0.40" y="445.40" font-size="15.5" font-weight="bold" stroke="#111" stroke-width="0.3" fill="#111">B</text>
<line x1="50.34" y1="450.30" x2="50.34" y2="686.00" stroke="#d4d4d4" stroke-width="0.9"/>
<line x1="72.00" y1="450.30" x2="72.00" y2="686.00" stroke="#d4d4d4" stroke-width="0.9"/>
<line x1="95.98" y1="450.30" x2="95.98" y2="686.00" stroke="#d4d4d4" stroke-width="0.9"/>
<line x1="111.65" y1="450.30" x2="111.65" y2="686.00" stroke="#d4d4d4" stroke-width="0.9"/>
<line x1="130.48" y1="450.30" x2="130.48" y2="686.00" stroke="#d4d4d4" stroke-width="0.9"/>
<line x1="149.75" y1="450.30" x2="149.75" y2="686.00" stroke="#d4d4d4" stroke-width="0.9"/>
<line x1="166.67" y1="450.30" x2="166.67" y2="686.00" stroke="#d4d4d4" stroke-width="0.9"/>
<line x1="181.09" y1="450.30" x2="181.09" y2="686.00" stroke="#d4d4d4" stroke-width="0.9"/>
<line x1="196.00" y1="450.30" x2="196.00" y2="686.00" stroke="#d4d4d4" stroke-width="0.9"/>
<line x1="209.18" y1="450.30" x2="209.18" y2="686.00" stroke="#d4d4d4" stroke-width="0.9"/>
<line x1="224.01" y1="450.30" x2="224.01" y2="686.00" stroke="#d4d4d4" stroke-width="0.9"/>
<line x1="235.67" y1="450.30" x2="235.67" y2="686.00" stroke="#d4d4d4" stroke-width="0.9"/>
<line x1="247.22" y1="450.30" x2="247.22" y2="686.00" stroke="#d4d4d4" stroke-width="0.9"/>
<line x1="258.65" y1="450.30" x2="258.65" y2="686.00" stroke="#d4d4d4" stroke-width="0.9"/>
<line x1="269.48" y1="450.30" x2="269.48" y2="686.00" stroke="#d4d4d4" stroke-width="0.9"/>
<line x1="281.43" y1="450.30" x2="281.43" y2="686.00" stroke="#d4d4d4" stroke-width="0.9"/>
<line x1="289.17" y1="450.30" x2="289.17" y2="686.00" stroke="#d4d4d4" stroke-width="0.9"/>
<line x1="296.58" y1="450.30" x2="296.58" y2="686.00" stroke="#d4d4d4" stroke-width="0.9"/>
<line x1="305.28" y1="450.30" x2="305.28" y2="686.00" stroke="#d4d4d4" stroke-width="0.9"/>
<line x1="311.27" y1="450.30" x2="311.27" y2="686.00" stroke="#d4d4d4" stroke-width="0.9"/>
<line x1="316.12" y1="450.30" x2="316.12" y2="686.00" stroke="#d4d4d4" stroke-width="0.9"/>
<line x1="321.06" y1="450.30" x2="321.06" y2="686.00" stroke="#d4d4d4" stroke-width="0.9"/>
<line x1="62.71" y1="450.30" x2="62.71" y2="686.00" stroke="#8e8e8e" stroke-width="1.0"/>
<line x1="86.92" y1="450.30" x2="86.92" y2="686.00" stroke="#8e8e8e" stroke-width="1.0"/>
<line x1="106.63" y1="450.30" x2="106.63" y2="686.00" stroke="#8e8e8e" stroke-width="1.0"/>
<line x1="125.66" y1="450.30" x2="125.66" y2="686.00" stroke="#8e8e8e" stroke-width="1.0"/>
<line x1="143.67" y1="450.30" x2="143.67" y2="686.00" stroke="#8e8e8e" stroke-width="1.0"/>
<line x1="160.71" y1="450.30" x2="160.71" y2="686.00" stroke="#8e8e8e" stroke-width="1.0"/>
<line x1="176.55" y1="450.30" x2="176.55" y2="686.00" stroke="#8e8e8e" stroke-width="1.0"/>
<line x1="191.12" y1="450.30" x2="191.12" y2="686.00" stroke="#8e8e8e" stroke-width="1.0"/>
<line x1="205.18" y1="450.30" x2="205.18" y2="686.00" stroke="#8e8e8e" stroke-width="1.0"/>
<line x1="218.67" y1="450.30" x2="218.67" y2="686.00" stroke="#8e8e8e" stroke-width="1.0"/>
<line x1="232.11" y1="450.30" x2="232.11" y2="686.00" stroke="#8e8e8e" stroke-width="1.0"/>
<line x1="245.43" y1="450.30" x2="245.43" y2="686.00" stroke="#8e8e8e" stroke-width="1.0"/>
<line x1="256.90" y1="450.30" x2="256.90" y2="686.00" stroke="#8e8e8e" stroke-width="1.0"/>
<line x1="267.58" y1="450.30" x2="267.58" y2="686.00" stroke="#8e8e8e" stroke-width="1.0"/>
<line x1="277.79" y1="450.30" x2="277.79" y2="686.00" stroke="#8e8e8e" stroke-width="1.0"/>
<line x1="286.79" y1="450.30" x2="286.79" y2="686.00" stroke="#8e8e8e" stroke-width="1.0"/>
<line x1="294.87" y1="450.30" x2="294.87" y2="686.00" stroke="#8e8e8e" stroke-width="1.0"/>
<line x1="302.64" y1="450.30" x2="302.64" y2="686.00" stroke="#8e8e8e" stroke-width="1.0"/>
<line x1="308.53" y1="450.30" x2="308.53" y2="686.00" stroke="#8e8e8e" stroke-width="1.0"/>
<line x1="314.80" y1="450.30" x2="314.80" y2="686.00" stroke="#8e8e8e" stroke-width="1.0"/>
<line x1="319.59" y1="450.30" x2="319.59" y2="686.00" stroke="#8e8e8e" stroke-width="1.0"/>
<rect x="38.40" y="456.50" width="3.00" height="12.02" fill="#3049a2"/>
<rect x="41.40" y="456.50" width="21.31" height="12.02" fill="#62c6d8"/>
<rect x="86.92" y="456.50" width="19.71" height="12.02" fill="#62c6d8"/>
<rect x="191.12" y="456.50" width="27.55" height="12.02" fill="#62c6d8"/>
<rect x="232.11" y="456.50" width="13.32" height="12.02" fill="#62c6d8"/>
<rect x="245.43" y="456.50" width="9.37" height="12.02" fill="#3049a2"/>
<rect x="267.90" y="456.50" width="8.10" height="12.02" fill="#62c6d8"/>
<rect x="277.79" y="456.50" width="8.99" height="12.02" fill="#62c6d8"/>
<rect x="320.70" y="456.50" width="2.20" height="12.02" fill="#3049a2"/>
<rect x="245.43" y="491.81" width="9.37" height="12.02" fill="#3049a2"/>
<rect x="267.70" y="491.81" width="8.00" height="12.02" fill="#3049a2"/>
<rect x="294.87" y="491.81" width="7.63" height="12.02" fill="#3049a2"/>
<rect x="40.20" y="515.35" width="2.80" height="12.02" fill="#f4a724"/>
<rect x="52.20" y="515.35" width="1.80" height="12.02" fill="#f08a8a"/>
<rect x="56.30" y="515.35" width="2.30" height="12.02" fill="#3049a2"/>
<rect x="61.60" y="515.35" width="1.20" height="12.02" fill="#7fa0d8"/>
<rect x="71.10" y="515.35" width="1.80" height="12.02" fill="#8f98c8"/>
<rect x="75.00" y="515.35" width="1.50" height="12.02" fill="#8f98c8"/>
<rect x="80.20" y="515.35" width="1.70" height="12.02" fill="#8f98c8"/>
<rect x="113.20" y="515.35" width="1.00" height="12.02" fill="#8f98c8"/>
<rect x="144.10" y="515.35" width="1.70" height="12.02" fill="#f4a724"/>
<rect x="145.80" y="515.35" width="2.00" height="12.02" fill="#e8232b"/>
<rect x="166.30" y="515.35" width="1.00" height="12.02" fill="#8f98c8"/>
<rect x="195.20" y="515.35" width="2.50" height="12.02" fill="#3049a2"/>
<rect x="208.80" y="515.35" width="1.00" height="12.02" fill="#3049a2"/>
<rect x="217.50" y="515.35" width="1.00" height="12.02" fill="#3049a2"/>
<rect x="224.30" y="515.35" width="1.00" height="12.02" fill="#f4a724"/>
<rect x="225.80" y="515.35" width="5.70" height="12.02" fill="#3049a2"/>
<rect x="228.00" y="515.35" width="0.80" height="12.02" fill="#a07050"/>
<rect x="236.80" y="515.35" width="0.90" height="12.02" fill="#f4a724"/>
<rect x="242.00" y="515.35" width="1.60" height="12.02" fill="#f4a724"/>
<rect x="244.00" y="515.35" width="1.00" height="12.02" fill="#3049a2"/>
<rect x="248.20" y="515.35" width="1.70" height="12.02" fill="#3049a2"/>
<rect x="263.30" y="515.35" width="1.70" height="12.02" fill="#3049a2"/>
<rect x="268.20" y="515.35" width="1.40" height="12.02" fill="#a07050"/>
<rect x="278.60" y="515.35" width="0.90" height="12.02" fill="#8f98c8"/>
<rect x="287.30" y="515.35" width="1.00" height="12.02" fill="#a07050"/>
<rect x="304.00" y="515.35" width="1.00" height="12.02" fill="#a07050"/>
<rect x="307.30" y="515.35" width="1.00" height="12.02" fill="#a07050"/>
<rect x="289.40" y="515.35" width="4.60" height="12.02" fill="#f4a724"/>
<rect x="289.40" y="527.12" width="4.60" height="11.02" fill="#f4a724"/>
<rect x="52.50" y="527.12" width="10.21" height="35.56" fill="#e8232b"/>
<rect x="224.00" y="527.12" width="8.11" height="12.02" fill="#3049a2"/>
<rect x="308.20" y="527.12" width="1.00" height="11.02" fill="#3049a2"/>
<rect x="320.20" y="527.12" width="2.90" height="23.79" fill="#3049a2"/>
<rect x="125.66" y="538.89" width="18.01" height="12.02" fill="#e8232b"/>
<rect x="218.67" y="538.89" width="13.44" height="12.02" fill="#3049a2"/>
<rect x="281.30" y="538.89" width="5.49" height="12.02" fill="#3049a2"/>
<rect x="125.66" y="550.66" width="4.82" height="12.02" fill="#e8232b"/>
<rect x="268.80" y="550.66" width="0.90" height="12.02" fill="#3049a2"/>
<rect x="305.00" y="550.66" width="1.00" height="12.02" fill="#a8dcea"/>
<rect x="95.98" y="562.43" width="10.65" height="12.02" fill="#e8232b"/>
<rect x="320.30" y="562.43" width="3.20" height="12.02" fill="#3049a2"/>
<rect x="38.50" y="574.20" width="48.50" height="12.02" fill="#e8232b"/>
<rect x="87.40" y="574.20" width="4.00" height="12.02" fill="#f4a724"/>
<rect x="92.60" y="574.20" width="112.58" height="12.02" fill="#e8232b"/>
<rect x="218.67" y="574.20" width="5.53" height="12.02" fill="#e8232b"/>
<rect x="232.11" y="574.20" width="22.59" height="12.02" fill="#e8232b"/>
<rect x="257.20" y="574.20" width="8.30" height="12.02" fill="#e8232b"/>
<rect x="267.58" y="574.20" width="7.62" height="12.02" fill="#e8232b"/>
<rect x="277.79" y="574.20" width="17.08" height="12.02" fill="#e8232b"/>
<rect x="302.54" y="574.20" width="5.66" height="12.02" fill="#e8232b"/>
<rect x="311.20" y="574.20" width="3.90" height="12.02" fill="#e8232b"/>
<rect x="315.10" y="574.20" width="1.70" height="12.02" fill="#f4a724"/>
<rect x="316.80" y="574.20" width="1.30" height="12.02" fill="#e8232b"/>
<rect x="319.70" y="574.20" width="3.20" height="12.02" fill="#ee6b72"/>
<rect x="304.40" y="574.20" width="1.40" height="12.02" fill="#f07a3a"/>
<rect x="38.50" y="585.97" width="3.00" height="12.02" fill="#3049a2"/>
<rect x="52.50" y="585.97" width="34.50" height="12.02" fill="#e8232b"/>
<rect x="104.30" y="585.97" width="2.33" height="12.02" fill="#e8232b"/>
<rect x="125.66" y="585.97" width="18.01" height="12.02" fill="#e8232b"/>
<rect x="191.20" y="585.97" width="2.40" height="12.02" fill="#3049a2"/>
<rect x="205.38" y="585.97" width="11.32" height="12.02" fill="#e8232b"/>
<rect x="232.11" y="585.97" width="9.09" height="12.02" fill="#e8232b"/>
<rect x="245.40" y="585.97" width="9.30" height="12.02" fill="#e8232b"/>
<rect x="286.79" y="585.97" width="8.08" height="12.02" fill="#e8232b"/>
<rect x="302.64" y="585.97" width="4.66" height="12.02" fill="#62c6d8"/>
<rect x="308.20" y="585.97" width="6.00" height="12.02" fill="#e8232b"/>
<rect x="166.00" y="585.97" width="1.00" height="23.79" fill="#a8dcea"/>
<rect x="52.50" y="597.74" width="10.21" height="12.02" fill="#e8232b"/>
<rect x="195.30" y="597.74" width="2.50" height="12.02" fill="#3049a2"/>
<rect x="205.40" y="597.74" width="3.30" height="12.02" fill="#3049a2"/>
<rect x="303.60" y="597.74" width="1.40" height="12.02" fill="#c8e8f0"/>
<rect x="52.50" y="621.28" width="10.21" height="12.02" fill="#e8232b"/>
<rect x="191.30" y="621.28" width="3.60" height="12.02" fill="#e8232b"/>
<rect x="284.20" y="621.28" width="2.40" height="12.02" fill="#3049a2"/>
<rect x="320.00" y="621.28" width="2.60" height="12.02" fill="#3049a2"/>
<rect x="70.40" y="644.82" width="1.20" height="12.02" fill="#3049a2"/>
<rect x="226.90" y="644.82" width="3.60" height="12.02" fill="#3049a2"/>
<rect x="52.50" y="668.36" width="10.21" height="12.02" fill="#e8232b"/>
<line x1="62.71" y1="450.30" x2="62.71" y2="686.00" stroke="#000" stroke-width="0.8" stroke-opacity="0.12"/>
<line x1="86.92" y1="450.30" x2="86.92" y2="686.00" stroke="#000" stroke-width="0.8" stroke-opacity="0.12"/>
<line x1="106.63" y1="450.30" x2="106.63" y2="686.00" stroke="#000" stroke-width="0.8" stroke-opacity="0.12"/>
<line x1="125.66" y1="450.30" x2="125.66" y2="686.00" stroke="#000" stroke-width="0.8" stroke-opacity="0.12"/>
<line x1="143.67" y1="450.30" x2="143.67" y2="686.00" stroke="#000" stroke-width="0.8" stroke-opacity="0.12"/>
<line x1="160.71" y1="450.30" x2="160.71" y2="686.00" stroke="#000" stroke-width="0.8" stroke-opacity="0.12"/>
<line x1="176.55" y1="450.30" x2="176.55" y2="686.00" stroke="#000" stroke-width="0.8" stroke-opacity="0.12"/>
<line x1="191.12" y1="450.30" x2="191.12" y2="686.00" stroke="#000" stroke-width="0.8" stroke-opacity="0.12"/>
<line x1="205.18" y1="450.30" x2="205.18" y2="686.00" stroke="#000" stroke-width="0.8" stroke-opacity="0.12"/>
<line x1="218.67" y1="450.30" x2="218.67" y2="686.00" stroke="#000" stroke-width="0.8" stroke-opacity="0.12"/>
<line x1="232.11" y1="450.30" x2="232.11" y2="686.00" stroke="#000" stroke-width="0.8" stroke-opacity="0.12"/>
<line x1="245.43" y1="450.30" x2="245.43" y2="686.00" stroke="#000" stroke-width="0.8" stroke-opacity="0.12"/>
<line x1="256.90" y1="450.30" x2="256.90" y2="686.00" stroke="#000" stroke-width="0.8" stroke-opacity="0.12"/>
<line x1="267.58" y1="450.30" x2="267.58" y2="686.00" stroke="#000" stroke-width="0.8" stroke-opacity="0.12"/>
<line x1="277.79" y1="450.30" x2="277.79" y2="686.00" stroke="#000" stroke-width="0.8" stroke-opacity="0.12"/>
<line x1="286.79" y1="450.30" x2="286.79" y2="686.00" stroke="#000" stroke-width="0.8" stroke-opacity="0.12"/>
<line x1="294.87" y1="450.30" x2="294.87" y2="686.00" stroke="#000" stroke-width="0.8" stroke-opacity="0.12"/>
<line x1="302.64" y1="450.30" x2="302.64" y2="686.00" stroke="#000" stroke-width="0.8" stroke-opacity="0.12"/>
<line x1="308.53" y1="450.30" x2="308.53" y2="686.00" stroke="#000" stroke-width="0.8" stroke-opacity="0.12"/>
<line x1="314.80" y1="450.30" x2="314.80" y2="686.00" stroke="#000" stroke-width="0.8" stroke-opacity="0.12"/>
<line x1="319.59" y1="450.30" x2="319.59" y2="686.00" stroke="#000" stroke-width="0.8" stroke-opacity="0.12"/>
<line x1="50.34" y1="450.30" x2="50.34" y2="686.00" stroke="#fff" stroke-width="0.8" stroke-opacity="0.3"/>
<line x1="72.00" y1="450.30" x2="72.00" y2="686.00" stroke="#fff" stroke-width="0.8" stroke-opacity="0.3"/>
<line x1="95.98" y1="450.30" x2="95.98" y2="686.00" stroke="#fff" stroke-width="0.8" stroke-opacity="0.3"/>
<line x1="111.65" y1="450.30" x2="111.65" y2="686.00" stroke="#fff" stroke-width="0.8" stroke-opacity="0.3"/>
<line x1="130.48" y1="450.30" x2="130.48" y2="686.00" stroke="#fff" stroke-width="0.8" stroke-opacity="0.3"/>
<line x1="149.75" y1="450.30" x2="149.75" y2="686.00" stroke="#fff" stroke-width="0.8" stroke-opacity="0.3"/>
<line x1="166.67" y1="450.30" x2="166.67" y2="686.00" stroke="#fff" stroke-width="0.8" stroke-opacity="0.3"/>
<line x1="181.09" y1="450.30" x2="181.09" y2="686.00" stroke="#fff" stroke-width="0.8" stroke-opacity="0.3"/>
<line x1="196.00" y1="450.30" x2="196.00" y2="686.00" stroke="#fff" stroke-width="0.8" stroke-opacity="0.3"/>
<line x1="209.18" y1="450.30" x2="209.18" y2="686.00" stroke="#fff" stroke-width="0.8" stroke-opacity="0.3"/>
<line x1="224.01" y1="450.30" x2="224.01" y2="686.00" stroke="#fff" stroke-width="0.8" stroke-opacity="0.3"/>
<line x1="235.67" y1="450.30" x2="235.67" y2="686.00" stroke="#fff" stroke-width="0.8" stroke-opacity="0.3"/>
<line x1="247.22" y1="450.30" x2="247.22" y2="686.00" stroke="#fff" stroke-width="0.8" stroke-opacity="0.3"/>
<line x1="258.65" y1="450.30" x2="258.65" y2="686.00" stroke="#fff" stroke-width="0.8" stroke-opacity="0.3"/>
<line x1="269.48" y1="450.30" x2="269.48" y2="686.00" stroke="#fff" stroke-width="0.8" stroke-opacity="0.3"/>
<line x1="281.43" y1="450.30" x2="281.43" y2="686.00" stroke="#fff" stroke-width="0.8" stroke-opacity="0.3"/>
<line x1="289.17" y1="450.30" x2="289.17" y2="686.00" stroke="#fff" stroke-width="0.8" stroke-opacity="0.3"/>
<line x1="296.58" y1="450.30" x2="296.58" y2="686.00" stroke="#fff" stroke-width="0.8" stroke-opacity="0.3"/>
<line x1="305.28" y1="450.30" x2="305.28" y2="686.00" stroke="#fff" stroke-width="0.8" stroke-opacity="0.3"/>
<line x1="311.27" y1="450.30" x2="311.27" y2="686.00" stroke="#fff" stroke-width="0.8" stroke-opacity="0.3"/>
<line x1="316.12" y1="450.30" x2="316.12" y2="686.00" stroke="#fff" stroke-width="0.8" stroke-opacity="0.3"/>
<line x1="321.06" y1="450.30" x2="321.06" y2="686.00" stroke="#fff" stroke-width="0.8" stroke-opacity="0.3"/>
<rect x="71.70" y="585.97" width="0.60" height="11.37" fill="#fff"/>
<line x1="38.50" y1="450.30" x2="324.70" y2="450.30" stroke="#8f8f8f" stroke-width="1.0"/>
<line x1="324.70" y1="450.30" x2="324.70" y2="686.00" stroke="#8f8f8f" stroke-width="1.0"/>
<line x1="38.50" y1="449.80" x2="38.50" y2="686.50" stroke="#8a8a8a" stroke-width="1.1"/>
<line x1="38.00" y1="686.00" x2="325.20" y2="686.00" stroke="#8a8a8a" stroke-width="1.1"/>
<text x="31.70" y="465.08" font-size="8.7" font-weight="bold" stroke="#e0242e" stroke-width="0.3" text-anchor="end" fill="#e0242e">ER #1</text>
<line x1="34.90" y1="462.08" x2="38.00" y2="462.08" stroke="#333" stroke-width="1.0"/>
<text x="31.70" y="476.85" font-size="8.7" font-weight="bold" stroke="#e0242e" stroke-width="0.3" text-anchor="end" fill="#e0242e">ER #2</text>
<line x1="34.90" y1="473.85" x2="38.00" y2="473.85" stroke="#333" stroke-width="1.0"/>
<text x="31.70" y="488.62" font-size="8.7" font-weight="bold" stroke="#e0242e" stroke-width="0.3" text-anchor="end" fill="#e0242e">ER #4</text>
<line x1="34.90" y1="485.62" x2="38.00" y2="485.62" stroke="#333" stroke-width="1.0"/>
<text x="31.70" y="500.39" font-size="8.7" font-weight="bold" stroke="#e0242e" stroke-width="0.3" text-anchor="end" fill="#e0242e">ER #5</text>
<line x1="34.90" y1="497.39" x2="38.00" y2="497.39" stroke="#333" stroke-width="1.0"/>
<text x="31.70" y="512.16" font-size="8.7" font-weight="bold" stroke="#e0242e" stroke-width="0.3" text-anchor="end" fill="#e0242e">ER #6</text>
<line x1="34.90" y1="509.16" x2="38.00" y2="509.16" stroke="#333" stroke-width="1.0"/>
<text x="31.70" y="523.94" font-size="8.7" font-weight="bold" stroke="#e0242e" stroke-width="0.3" text-anchor="end" fill="#e0242e">ER #7</text>
<line x1="34.90" y1="520.94" x2="38.00" y2="520.94" stroke="#333" stroke-width="1.0"/>
<text x="31.70" y="535.71" font-size="8.7" font-weight="bold" stroke="#34489a" stroke-width="0.3" text-anchor="end" fill="#34489a">NR #1A</text>
<line x1="34.90" y1="532.71" x2="38.00" y2="532.71" stroke="#333" stroke-width="1.0"/>
<text x="31.70" y="547.48" font-size="8.7" font-weight="bold" stroke="#34489a" stroke-width="0.3" text-anchor="end" fill="#34489a">NR #1B</text>
<line x1="34.90" y1="544.48" x2="38.00" y2="544.48" stroke="#333" stroke-width="1.0"/>
<text x="31.70" y="559.25" font-size="8.7" font-weight="bold" stroke="#34489a" stroke-width="0.3" text-anchor="end" fill="#34489a">NR #2A</text>
<line x1="34.90" y1="556.25" x2="38.00" y2="556.25" stroke="#333" stroke-width="1.0"/>
<text x="31.70" y="571.01" font-size="8.7" font-weight="bold" stroke="#34489a" stroke-width="0.3" text-anchor="end" fill="#34489a">NR #2B</text>
<line x1="34.90" y1="568.01" x2="38.00" y2="568.01" stroke="#333" stroke-width="1.0"/>
<text x="31.70" y="582.79" font-size="8.7" font-weight="bold" stroke="#34489a" stroke-width="0.3" text-anchor="end" fill="#34489a">NR #3A</text>
<line x1="34.90" y1="579.79" x2="38.00" y2="579.79" stroke="#333" stroke-width="1.0"/>
<text x="31.70" y="594.56" font-size="8.7" font-weight="bold" stroke="#34489a" stroke-width="0.3" text-anchor="end" fill="#34489a">NR #3B</text>
<line x1="34.90" y1="591.56" x2="38.00" y2="591.56" stroke="#333" stroke-width="1.0"/>
<text x="31.70" y="606.33" font-size="8.7" font-weight="bold" stroke="#34489a" stroke-width="0.3" text-anchor="end" fill="#34489a">NR #4A</text>
<line x1="34.90" y1="603.33" x2="38.00" y2="603.33" stroke="#333" stroke-width="1.0"/>
<text x="31.70" y="618.10" font-size="8.7" font-weight="bold" stroke="#34489a" stroke-width="0.3" text-anchor="end" fill="#34489a">NR #4B</text>
<line x1="34.90" y1="615.10" x2="38.00" y2="615.10" stroke="#333" stroke-width="1.0"/>
<text x="31.70" y="629.87" font-size="8.7" font-weight="bold" stroke="#34489a" stroke-width="0.3" text-anchor="end" fill="#34489a">NR #5A</text>
<line x1="34.90" y1="626.87" x2="38.00" y2="626.87" stroke="#333" stroke-width="1.0"/>
<text x="31.70" y="641.63" font-size="8.7" font-weight="bold" stroke="#34489a" stroke-width="0.3" text-anchor="end" fill="#34489a">NR #5B</text>
<line x1="34.90" y1="638.63" x2="38.00" y2="638.63" stroke="#333" stroke-width="1.0"/>
<text x="31.70" y="653.40" font-size="8.7" font-weight="bold" stroke="#34489a" stroke-width="0.3" text-anchor="end" fill="#34489a">NR #6B</text>
<line x1="34.90" y1="650.40" x2="38.00" y2="650.40" stroke="#333" stroke-width="1.0"/>
<text x="31.70" y="665.18" font-size="8.7" font-weight="bold" stroke="#34489a" stroke-width="0.3" text-anchor="end" fill="#34489a">NR #8A</text>
<line x1="34.90" y1="662.18" x2="38.00" y2="662.18" stroke="#333" stroke-width="1.0"/>
<text x="31.70" y="676.95" font-size="8.7" font-weight="bold" stroke="#34489a" stroke-width="0.3" text-anchor="end" fill="#34489a">NR #8B</text>
<line x1="34.90" y1="673.95" x2="38.00" y2="673.95" stroke="#333" stroke-width="1.0"/>
<line x1="50.34" y1="686.00" x2="50.34" y2="689.00" stroke="#333" stroke-width="1.0"/>
<text x="0" y="0" font-size="8.6" font-weight="bold" fill="#222" stroke="#222" stroke-width="0.35" text-anchor="middle" transform="translate(50.34,697.80) scale(0.8,1)">1</text>
<line x1="72.00" y1="686.00" x2="72.00" y2="689.00" stroke="#333" stroke-width="1.0"/>
<text x="0" y="0" font-size="8.6" font-weight="bold" fill="#222" stroke="#222" stroke-width="0.35" text-anchor="middle" transform="translate(72.00,708.60) scale(0.8,1)">2</text>
<line x1="95.98" y1="686.00" x2="95.98" y2="689.00" stroke="#333" stroke-width="1.0"/>
<text x="0" y="0" font-size="8.6" font-weight="bold" fill="#222" stroke="#222" stroke-width="0.35" text-anchor="middle" transform="translate(95.98,697.80) scale(0.8,1)">3</text>
<line x1="111.65" y1="686.00" x2="111.65" y2="689.00" stroke="#333" stroke-width="1.0"/>
<text x="0" y="0" font-size="8.6" font-weight="bold" fill="#222" stroke="#222" stroke-width="0.35" text-anchor="middle" transform="translate(111.65,708.60) scale(0.8,1)">4</text>
<line x1="130.48" y1="686.00" x2="130.48" y2="689.00" stroke="#333" stroke-width="1.0"/>
<text x="0" y="0" font-size="8.6" font-weight="bold" fill="#222" stroke="#222" stroke-width="0.35" text-anchor="middle" transform="translate(130.48,697.80) scale(0.8,1)">5</text>
<line x1="149.75" y1="686.00" x2="149.75" y2="689.00" stroke="#333" stroke-width="1.0"/>
<text x="0" y="0" font-size="8.6" font-weight="bold" fill="#222" stroke="#222" stroke-width="0.35" text-anchor="middle" transform="translate(149.75,708.60) scale(0.8,1)">6</text>
<line x1="166.67" y1="686.00" x2="166.67" y2="689.00" stroke="#333" stroke-width="1.0"/>
<text x="0" y="0" font-size="8.6" font-weight="bold" fill="#222" stroke="#222" stroke-width="0.35" text-anchor="middle" transform="translate(166.67,697.80) scale(0.8,1)">7</text>
<line x1="181.09" y1="686.00" x2="181.09" y2="689.00" stroke="#333" stroke-width="1.0"/>
<text x="0" y="0" font-size="8.6" font-weight="bold" fill="#222" stroke="#222" stroke-width="0.35" text-anchor="middle" transform="translate(181.09,708.60) scale(0.8,1)">8</text>
<line x1="196.00" y1="686.00" x2="196.00" y2="689.00" stroke="#333" stroke-width="1.0"/>
<text x="0" y="0" font-size="8.6" font-weight="bold" fill="#222" stroke="#222" stroke-width="0.35" text-anchor="middle" transform="translate(196.00,697.80) scale(0.8,1)">9</text>
<line x1="209.18" y1="686.00" x2="209.18" y2="689.00" stroke="#333" stroke-width="1.0"/>
<text x="0" y="0" font-size="8.6" font-weight="bold" fill="#222" stroke="#222" stroke-width="0.35" text-anchor="middle" transform="translate(209.18,708.60) scale(0.8,1)">10</text>
<line x1="224.01" y1="686.00" x2="224.01" y2="689.00" stroke="#333" stroke-width="1.0"/>
<text x="0" y="0" font-size="8.6" font-weight="bold" fill="#222" stroke="#222" stroke-width="0.35" text-anchor="middle" transform="translate(224.01,697.80) scale(0.8,1)">11</text>
<line x1="235.67" y1="686.00" x2="235.67" y2="689.00" stroke="#333" stroke-width="1.0"/>
<text x="0" y="0" font-size="8.6" font-weight="bold" fill="#222" stroke="#222" stroke-width="0.35" text-anchor="middle" transform="translate(235.67,708.60) scale(0.8,1)">12</text>
<line x1="247.22" y1="686.00" x2="247.22" y2="689.00" stroke="#333" stroke-width="1.0"/>
<text x="0" y="0" font-size="8.6" font-weight="bold" fill="#222" stroke="#222" stroke-width="0.35" text-anchor="middle" transform="translate(247.22,697.80) scale(0.8,1)">13</text>
<line x1="258.65" y1="686.00" x2="258.65" y2="689.00" stroke="#333" stroke-width="1.0"/>
<text x="0" y="0" font-size="8.6" font-weight="bold" fill="#222" stroke="#222" stroke-width="0.35" text-anchor="middle" transform="translate(258.65,708.60) scale(0.8,1)">14</text>
<line x1="269.48" y1="686.00" x2="269.48" y2="689.00" stroke="#333" stroke-width="1.0"/>
<text x="0" y="0" font-size="8.6" font-weight="bold" fill="#222" stroke="#222" stroke-width="0.35" text-anchor="middle" transform="translate(269.48,697.80) scale(0.8,1)">15</text>
<line x1="281.43" y1="686.00" x2="281.43" y2="689.00" stroke="#333" stroke-width="1.0"/>
<text x="0" y="0" font-size="8.6" font-weight="bold" fill="#222" stroke="#222" stroke-width="0.35" text-anchor="middle" transform="translate(281.43,708.60) scale(0.8,1)">16</text>
<line x1="289.17" y1="686.00" x2="289.17" y2="689.00" stroke="#333" stroke-width="1.0"/>
<text x="0" y="0" font-size="8.6" font-weight="bold" fill="#222" stroke="#222" stroke-width="0.35" text-anchor="middle" transform="translate(289.17,697.80) scale(0.8,1)">17</text>
<line x1="296.58" y1="686.00" x2="296.58" y2="689.00" stroke="#333" stroke-width="1.0"/>
<text x="0" y="0" font-size="8.6" font-weight="bold" fill="#222" stroke="#222" stroke-width="0.35" text-anchor="middle" transform="translate(296.58,708.60) scale(0.8,1)">18</text>
<line x1="305.28" y1="686.00" x2="305.28" y2="689.00" stroke="#333" stroke-width="1.0"/>
<text x="0" y="0" font-size="8.6" font-weight="bold" fill="#222" stroke="#222" stroke-width="0.35" text-anchor="middle" transform="translate(305.28,697.80) scale(0.8,1)">19</text>
<line x1="311.27" y1="686.00" x2="311.27" y2="689.00" stroke="#333" stroke-width="1.0"/>
<text x="0" y="0" font-size="8.6" font-weight="bold" fill="#222" stroke="#222" stroke-width="0.35" text-anchor="middle" transform="translate(311.27,708.60) scale(0.8,1)">20</text>
<line x1="316.12" y1="686.00" x2="316.12" y2="689.00" stroke="#333" stroke-width="1.0"/>
<text x="0" y="0" font-size="8.6" font-weight="bold" fill="#222" stroke="#222" stroke-width="0.35" text-anchor="middle" transform="translate(316.12,697.80) scale(0.8,1)">21</text>
<line x1="321.06" y1="686.00" x2="321.06" y2="689.00" stroke="#333" stroke-width="1.0"/>
<text x="0" y="0" font-size="8.6" font-weight="bold" fill="#222" stroke="#222" stroke-width="0.35" text-anchor="middle" transform="translate(321.06,708.60) scale(0.8,1)">22</text>
<text x="186.00" y="720.80" font-size="11.8" font-weight="bold" stroke="#111" stroke-width="0.3" text-anchor="middle" fill="#111">Genomic location</text>
<text x="343.60" y="445.60" font-size="15.5" font-weight="bold" stroke="#111" stroke-width="0.3" fill="#111">C</text>
<rect x="389.50" y="564.30" width="20.30" height="71.40" fill="#9e9ea2"/>
<rect x="416.20" y="480.30" width="20.30" height="155.40" fill="#9e9ea2"/>
<rect x="416.20" y="540.30" width="20.30" height="95.40" fill="#e8202a"/>
<rect x="460.90" y="564.30" width="20.30" height="71.40" fill="#9e9ea2"/>
<rect x="460.90" y="624.30" width="20.30" height="11.40" fill="#3552a4"/>
<rect x="487.90" y="480.30" width="20.30" height="155.40" fill="#9e9ea2"/>
<rect x="487.90" y="588.30" width="20.30" height="47.40" fill="#3552a4"/>
<line x1="379.30" y1="467.60" x2="379.30" y2="636.50" stroke="#111" stroke-width="1.5"/>
<line x1="378.60" y1="635.70" x2="519.60" y2="635.70" stroke="#111" stroke-width="1.5"/>
<line x1="375.90" y1="635.90" x2="379.30" y2="635.90" stroke="#111" stroke-width="1.3"/>
<text x="374.00" y="639.80" font-size="10.6" stroke="#1a1a1a" stroke-width="0.12" text-anchor="end" fill="#1a1a1a">0</text>
<line x1="375.90" y1="611.90" x2="379.30" y2="611.90" stroke="#111" stroke-width="1.3"/>
<text x="374.00" y="615.80" font-size="10.6" stroke="#1a1a1a" stroke-width="0.12" text-anchor="end" fill="#1a1a1a">2</text>
<line x1="375.90" y1="587.90" x2="379.30" y2="587.90" stroke="#111" stroke-width="1.3"/>
<text x="374.00" y="591.80" font-size="10.6" stroke="#1a1a1a" stroke-width="0.12" text-anchor="end" fill="#1a1a1a">4</text>
<line x1="375.90" y1="563.90" x2="379.30" y2="563.90" stroke="#111" stroke-width="1.3"/>
<text x="374.00" y="567.80" font-size="10.6" stroke="#1a1a1a" stroke-width="0.12" text-anchor="end" fill="#1a1a1a">6</text>
<line x1="375.90" y1="539.90" x2="379.30" y2="539.90" stroke="#111" stroke-width="1.3"/>
<text x="374.00" y="543.80" font-size="10.6" stroke="#1a1a1a" stroke-width="0.12" text-anchor="end" fill="#1a1a1a">8</text>
<line x1="375.90" y1="515.90" x2="379.30" y2="515.90" stroke="#111" stroke-width="1.3"/>
<text x="374.00" y="519.80" font-size="10.6" stroke="#1a1a1a" stroke-width="0.12" text-anchor="end" fill="#1a1a1a">10</text>
<line x1="375.90" y1="491.90" x2="379.30" y2="491.90" stroke="#111" stroke-width="1.3"/>
<text x="374.00" y="495.80" font-size="10.6" stroke="#1a1a1a" stroke-width="0.12" text-anchor="end" fill="#1a1a1a">12</text>
<line x1="375.90" y1="467.90" x2="379.30" y2="467.90" stroke="#111" stroke-width="1.3"/>
<text x="374.00" y="471.80" font-size="10.6" stroke="#1a1a1a" stroke-width="0.12" text-anchor="end" fill="#1a1a1a">14</text>
<line x1="399.65" y1="636.30" x2="399.65" y2="639.30" stroke="#111" stroke-width="1.2"/>
<line x1="426.35" y1="636.30" x2="426.35" y2="639.30" stroke="#111" stroke-width="1.2"/>
<line x1="471.05" y1="636.30" x2="471.05" y2="639.30" stroke="#111" stroke-width="1.2"/>
<line x1="498.05" y1="636.30" x2="498.05" y2="639.30" stroke="#111" stroke-width="1.2"/>
<text x="399.70" y="650.00" font-size="11.6" stroke="#1a1a1a" stroke-width="0.12" text-anchor="middle" fill="#1a1a1a">ER</text>
<text x="426.40" y="650.00" font-size="11.6" stroke="#1a1a1a" stroke-width="0.12" text-anchor="middle" fill="#1a1a1a">NR</text>
<text x="471.10" y="650.00" font-size="11.6" stroke="#1a1a1a" stroke-width="0.12" text-anchor="middle" fill="#1a1a1a">ER</text>
<text x="498.10" y="650.00" font-size="11.6" stroke="#1a1a1a" stroke-width="0.12" text-anchor="middle" fill="#1a1a1a">NR</text>
<text x="0" y="0" font-size="11.2" font-weight="bold" fill="#111" text-anchor="middle" transform="translate(359.2,548.4) rotate(-90)">Number of cases</text>
<path d="M399.6,469.6 L399.6,465.6 L426.3,465.6 L426.3,469.6" fill="none" stroke="#111" stroke-width="1.5"/>
<text x="413.50" y="467.60" font-size="11" font-weight="bold" stroke="#111" stroke-width="0.3" text-anchor="middle" fill="#111">*</text>
<path d="M471.2,472.4 L471.2,468.5 L498.2,468.5 L498.2,472.4" fill="none" stroke="#111" stroke-width="1.5"/>
<text x="485.90" y="465.90" font-size="11.5" font-weight="bold" stroke="#111" stroke-width="0.3" text-anchor="middle" fill="#111">ns</text>
<text x="382.1" y="674.6" font-size="11.7" fill="#1a1a1a" stroke="#1a1a1a" stroke-width="0.12"><tspan font-style="italic">N</tspan> of cases with:</text>
<rect x="381.50" y="680.40" width="7.20" height="9.80" fill="#e8202a"/>
<text x="390.80" y="689.20" font-size="12.0" stroke="#1a1a1a" stroke-width="0.12" fill="#1a1a1a">1q gain</text>
<rect x="435.80" y="680.40" width="7.70" height="9.80" fill="#3552a4"/>
<text x="445.60" y="689.20" font-size="11.8" stroke="#1a1a1a" stroke-width="0.12" fill="#1a1a1a">22q loss</text>
<rect x="381.50" y="697.70" width="7.20" height="9.80" fill="#9e9ea2"/>
<text x="390.80" y="706.20" font-size="11.9" stroke="#1a1a1a" stroke-width="0.12" fill="#1a1a1a">Total Number of cases</text>
</svg>
</body></html>
